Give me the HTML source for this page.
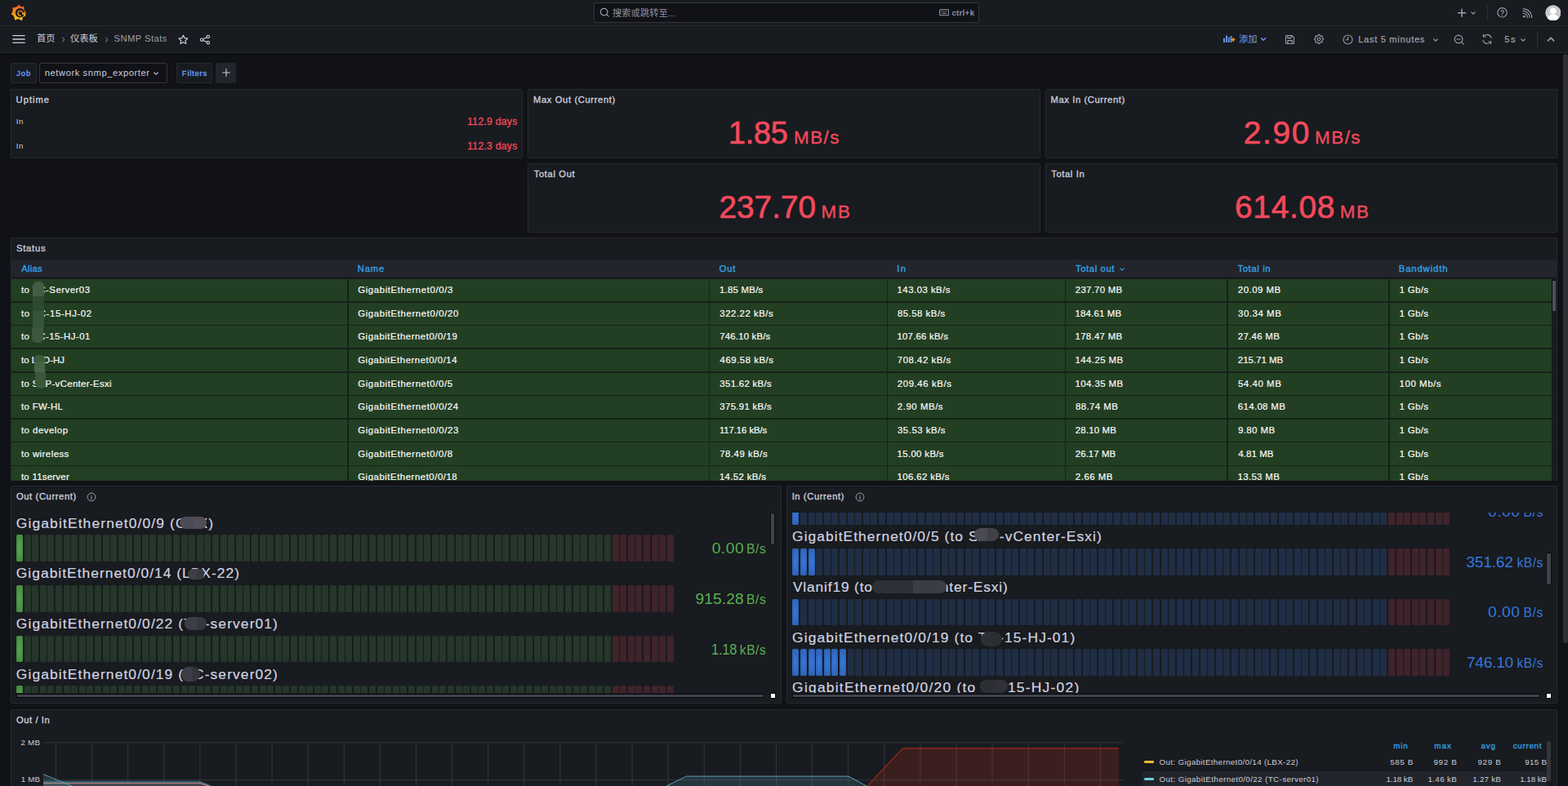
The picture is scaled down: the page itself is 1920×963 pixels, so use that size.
<!DOCTYPE html>
<html><head><meta charset="utf-8"><title>SNMP Stats - Grafana</title>
<style>
html,body{margin:0;padding:0;background:#111217;}
body{width:1920px;height:963px;position:relative;overflow:hidden;font-family:"Liberation Sans",sans-serif;color:#ccccdc;}
div,span.t,svg.a{position:absolute;box-sizing:border-box;}
span.t{white-space:nowrap;display:block;}
.p{background:#181b1f;border:1px solid #27292e;border-radius:2px;}
.cell{border-radius:1.6px;}
</style></head><body>
<div style="left:0.00px;top:0.00px;width:1920.00px;height:32.00px;background:#181b1f;border-bottom:1px solid #27292e;"></div>
<svg class="a" style="left:12.00px;top:4.00px;" width="22" height="23" viewBox="0 0 22 23"><defs><linearGradient id="lg" gradientUnits="userSpaceOnUse" x1="0" y1="21.5" x2="0" y2="1.5"><stop offset="0" stop-color="#fdd10b"/><stop offset="0.5" stop-color="#f7901e"/><stop offset="1" stop-color="#f0562a"/></linearGradient></defs>
<path d="M10.33 3.22 L11.40 1.91 L12.32 3.32 L13.48 4.68 L15.25 4.45 L16.88 4.02 L16.80 5.70 L17.26 8.02 L17.94 9.90 L19.37 10.66 L18.10 11.65 L17.96 12.84 L18.09 14.16 L18.85 15.63 L17.21 15.82 L15.67 16.79 L15.08 19.26 L14.56 20.92 L13.05 20.04 L10.59 18.59 L8.10 19.53 L6.56 20.30 L6.22 18.61 L5.23 15.83 L3.52 13.94 L2.00 13.29 L3.13 12.08 L3.89 9.75 L4.08 7.22 L3.62 5.61 L5.29 5.69 L7.94 4.84Z" fill="url(#lg)" stroke="url(#lg)" stroke-width="0.8" stroke-linejoin="round"/>
<circle cx="12.50" cy="11.80" r="5.7" fill="#181b1f"/>
<path d="M16.08 11.62 L19.86 11.57 L18.96 15.80 L15.91 13.52Z" fill="url(#lg)"/>
<path d="M13.16 15.24 A2.95 2.95 0 1 1 15.75 13.06" fill="none" stroke="url(#lg)" stroke-width="1.35" stroke-linecap="round"/></svg>
<div style="left:727.00px;top:3.00px;width:472.00px;height:24.50px;background:#111217;border:1px solid #33353b;border-radius:2px;"></div>
<svg class="a" style="left:734.00px;top:9.00px;" width="13" height="13" viewBox="0 0 13 13"><circle cx="5.6" cy="5.6" r="4.3" fill="none" stroke="#9d9fab" stroke-width="1.2"/><path d="M8.8 8.8 L11.2 11.2" stroke="#9d9fab" stroke-width="1.2" stroke-linecap="round"/></svg>
<svg class="a" role="img" aria-label="&#25628;&#32034;&#25110;&#36339;&#36716;&#33267;&#46;&#46;&#46;" style="left:750.00px;top:8.50px;overflow:visible" width="78.00" height="14.56"><text x="0" y="11.2" font-size="11.3" fill="#8e8f9c" font-family="'Liberation Sans','Noto Sans CJK SC',sans-serif">搜索或跳转至...</text></svg>
<svg class="a" style="left:1150.00px;top:11.40px;" width="12.4" height="8.6" viewBox="0 0 12.4 8.6"><rect x="0.7" y="0.7" width="11" height="7" rx="1.3" fill="none" stroke="#9d9fab" stroke-width="1.1"/><path d="M2.7 3.1 h7" stroke="#9d9fab" stroke-width="1" stroke-dasharray="1 1"/><path d="M3.4 5.3 h5.6" stroke="#9d9fab" stroke-width="1"/></svg>
<span class="t" style="left:1165.80px;top:10.87px;font-size:9.6px;line-height:9.6px;color:#9294a0;letter-spacing:0.756px;-webkit-text-stroke:0.4px #9294a0;">ctrl+k</span>
<svg class="a" style="left:1783.00px;top:8.50px;" width="14" height="14" viewBox="0 0 14 14"><path d="M7 2.3 V11.3 M2.5 6.8 H11.5" stroke="#a2a3ad" stroke-width="1.5" stroke-linecap="round"/></svg>
<svg class="a" style="left:1797.50px;top:9.50px;" width="12" height="12" viewBox="0 0 12 12"><path d="M3.7 4.85 L6 7.15 L8.3 4.85" fill="none" stroke="#9d9fab" stroke-width="1.2" stroke-linecap="round" stroke-linejoin="round"/></svg>
<div style="left:1821.00px;top:6.00px;width:1.00px;height:19.00px;background:#2e3036;"></div>
<svg class="a" style="left:1832.50px;top:9.00px;" width="13" height="13" viewBox="0 0 13 13"><circle cx="6.5" cy="6.3" r="5.7" fill="none" stroke="#9d9fab" stroke-width="1.1"/><path d="M5 5.2 a1.6 1.6 0 1 1 2.3 1.5 c-0.6 0.3 -0.8 0.6 -0.8 1.2" fill="none" stroke="#9d9fab" stroke-width="1.1" stroke-linecap="round"/><circle cx="6.5" cy="9.6" r="0.6" fill="#9d9fab"/></svg>
<svg class="a" style="left:1864.00px;top:9.50px;" width="13" height="13" viewBox="0 0 13 13"><circle cx="2.2" cy="10.3" r="1.3" fill="#9d9fab"/><path d="M1 6.2 a5.3 5.3 0 0 1 5.3 5.3 M1 3.4 a8.1 8.1 0 0 1 8.1 8.1 M1 0.8 a10.7 10.7 0 0 1 10.7 10.7" fill="none" stroke="#9d9fab" stroke-width="1.1" stroke-linecap="round"/></svg>
<svg class="a" style="left:1891.60px;top:5.60px;" width="19.6" height="19.6" viewBox="0 0 19.6 19.6"><clipPath id="av"><circle cx="9.8" cy="9.8" r="9.6"/></clipPath><circle cx="9.8" cy="9.8" r="9.6" fill="#c9c9cb"/><g clip-path="url(#av)" fill="#ffffff"><circle cx="9.8" cy="7.6" r="3.9"/><ellipse cx="9.8" cy="17.8" rx="7.2" ry="6.4"/></g></svg>
<div style="left:0.00px;top:32.00px;width:1920.00px;height:32.60px;background:#181b1f;border-bottom:1px solid #27292e;box-shadow:0 1px 2px rgba(0,0,0,0.5);"></div>
<svg class="a" style="left:14.50px;top:41.50px;" width="16" height="12" viewBox="0 0 16 12"><path d="M0.8 1.6 H15.2 M0.8 6 H15.2 M0.8 10.4 H15.2" stroke="#ccccdc" stroke-width="1.3" stroke-linecap="round"/></svg>
<svg class="a" role="img" aria-label="&#39318;&#39029;" style="left:45.00px;top:40.10px;overflow:visible" width="22.40" height="14.56"><text x="0" y="11.2" font-size="11.2" fill="#ccccdc" font-family="'Liberation Sans','Noto Sans CJK SC',sans-serif">首页</text></svg>
<svg class="a" style="left:74.00px;top:43.00px;" width="8" height="10" viewBox="0 0 8 10"><path d="M2.6 3.2 L5 5.6 L2.6 8" fill="none" stroke="#9d9fab" stroke-width="1" stroke-linecap="round" stroke-linejoin="round"/></svg>
<svg class="a" role="img" aria-label="&#20202;&#34920;&#26495;" style="left:86.00px;top:40.10px;overflow:visible" width="34.00" height="14.56"><text x="0" y="11.2" font-size="11.3" fill="#ccccdc" font-family="'Liberation Sans','Noto Sans CJK SC',sans-serif">仪表板</text></svg>
<svg class="a" style="left:127.00px;top:43.00px;" width="8" height="10" viewBox="0 0 8 10"><path d="M2.6 3.2 L5 5.6 L2.6 8" fill="none" stroke="#9d9fab" stroke-width="1" stroke-linecap="round" stroke-linejoin="round"/></svg>
<span class="t" style="left:139.50px;top:41.82px;font-size:11.2px;line-height:11.2px;color:#9d9fab;letter-spacing:0.457px;">SNMP Stats</span>
<svg class="a" style="left:217.00px;top:41.00px;" width="15" height="15" viewBox="0 0 15 15"><path d="M7.40 2.20 L9.05 5.63 L12.82 6.14 L10.06 8.77 L10.75 12.51 L7.40 10.70 L4.05 12.51 L4.74 8.77 L1.98 6.14 L5.75 5.63Z" fill="none" stroke="#ccccdc" stroke-width="1.2" stroke-linejoin="round"/></svg>
<svg class="a" style="left:244.00px;top:41.50px;" width="14" height="14" viewBox="0 0 14 14"><g fill="none" stroke="#ccccdc" stroke-width="1.1"><circle cx="3.1" cy="6.7" r="1.7"/><circle cx="10.8" cy="3.1" r="1.7"/><circle cx="10.8" cy="10.3" r="1.7"/><path d="M4.6 6 L9.3 3.8 M4.6 7.4 L9.3 9.6"/></g></svg>
<svg class="a" style="left:1497.00px;top:42.00px;" width="17" height="11" viewBox="0 0 17 11"><g fill="#6e9fff"><rect x="1" y="4.7" width="1.8" height="5.3"/><rect x="4" y="1.5" width="1.8" height="8.5"/><rect x="6.8" y="3.7" width="1.7" height="6.3"/><rect x="9.6" y="2" width="1.7" height="8"/></g><path d="M13 4.2 V9 M10.6 6.6 H15.4" stroke="#ff9830" stroke-width="1.5"/></svg>
<svg class="a" role="img" aria-label="&#28155;&#21152;" style="left:1517.00px;top:40.90px;overflow:visible" width="22.40" height="14.56"><text x="0" y="11.2" font-size="11.2" fill="#6e9fff" font-family="'Liberation Sans','Noto Sans CJK SC',sans-serif">添加</text></svg>
<svg class="a" style="left:1541.00px;top:42.00px;" width="12" height="12" viewBox="0 0 12 12"><path d="M3.4 4.7 L6 7.3 L8.6 4.7" fill="none" stroke="#6e9fff" stroke-width="1.3" stroke-linecap="round" stroke-linejoin="round"/></svg>
<svg class="a" style="left:1572.50px;top:41.50px;" width="13" height="13" viewBox="0 0 13 13"><g fill="none" stroke="#9d9fab" stroke-width="1.1" stroke-linejoin="round"><path d="M2.5 1.5 H8.8 L11.5 4.2 V10.5 Q11.5 11.5 10.5 11.5 H2.5 Q1.5 11.5 1.5 10.5 V2.5 Q1.5 1.5 2.5 1.5 Z"/><path d="M3.8 1.5 V4.6 H8 V1.5 M3.8 11.5 V7.6 H9.2 V11.5"/></g></svg>
<svg class="a" style="left:1608.00px;top:41.00px;" width="14" height="14" viewBox="0 0 14 14"><path d="M12.60 6.84 L12.60 7.16 L11.05 8.45 L10.89 8.84 L11.07 10.84 L10.84 11.07 L8.84 10.89 L8.45 11.05 L7.16 12.60 L6.84 12.60 L5.55 11.05 L5.16 10.89 L3.16 11.07 L2.93 10.84 L3.11 8.84 L2.95 8.45 L1.40 7.16 L1.40 6.84 L2.95 5.55 L3.11 5.16 L2.93 3.16 L3.16 2.93 L5.16 3.11 L5.55 2.95 L6.84 1.40 L7.16 1.40 L8.45 2.95 L8.84 3.11 L10.84 2.93 L11.07 3.16 L10.89 5.16 L11.05 5.55Z" fill="none" stroke="#9d9fab" stroke-width="1.1" stroke-linejoin="round"/><circle cx="7" cy="7" r="1.8" fill="none" stroke="#9d9fab" stroke-width="1.1"/></svg>
<svg class="a" style="left:1643.50px;top:41.70px;" width="13" height="13" viewBox="0 0 13 13"><circle cx="6.5" cy="6.5" r="5.5" fill="none" stroke="#9d9fab" stroke-width="1.1"/><path d="M6.5 3.3 V6.7 H4.2" fill="none" stroke="#9d9fab" stroke-width="1.1" stroke-linecap="round"/></svg>
<span class="t" style="left:1663.22px;top:42.69px;font-size:11.0px;line-height:11.0px;color:#9d9fab;letter-spacing:0.732px;-webkit-text-stroke:0.25px #9d9fab;">Last 5 minutes</span>
<svg class="a" style="left:1752.00px;top:42.50px;" width="12" height="12" viewBox="0 0 12 12"><path d="M3.7 4.85 L6 7.15 L8.3 4.85" fill="none" stroke="#9d9fab" stroke-width="1.2" stroke-linecap="round" stroke-linejoin="round"/></svg>
<svg class="a" style="left:1779.50px;top:41.50px;" width="14" height="14" viewBox="0 0 14 14"><circle cx="6" cy="6" r="4.9" fill="none" stroke="#9d9fab" stroke-width="1.1"/><path d="M3.8 6 H8.2 M9.6 9.6 L12.4 12.4" stroke="#9d9fab" stroke-width="1.1" stroke-linecap="round"/></svg>
<svg class="a" style="left:1814.00px;top:41.30px;" width="14" height="14" viewBox="0 0 14 14"><g fill="none" stroke="#9d9fab" stroke-width="1.1" stroke-linecap="round" stroke-linejoin="round"><path d="M12 5.4 A5.3 5.3 0 0 0 2.6 3.8 M2 8.6 A5.3 5.3 0 0 0 11.4 10.2"/><path d="M2.4 1.2 V4 H5.2 M11.6 12.8 V10 H8.8"/></g></svg>
<span class="t" style="left:1842.28px;top:42.69px;font-size:11.0px;line-height:11.0px;color:#9d9fab;letter-spacing:1.570px;-webkit-text-stroke:0.25px #9d9fab;">5s</span>
<svg class="a" style="left:1859.00px;top:42.50px;" width="12" height="12" viewBox="0 0 12 12"><path d="M3.7 4.85 L6 7.15 L8.3 4.85" fill="none" stroke="#9d9fab" stroke-width="1.2" stroke-linecap="round" stroke-linejoin="round"/></svg>
<div style="left:1881.50px;top:38.00px;width:1.00px;height:20.00px;background:#2e3036;"></div>
<svg class="a" style="left:1893.00px;top:42.00px;" width="12" height="12" viewBox="0 0 12 12"><path d="M2.4 7.9 L6 4.4 L9.6 7.9" fill="none" stroke="#9d9fab" stroke-width="1.6" stroke-linecap="round" stroke-linejoin="round"/></svg>
<div style="left:1914.00px;top:66.00px;width:5.60px;height:722.00px;background:#2f3035;border-radius:3px;"></div>
<div style="left:13.00px;top:77.00px;width:31.90px;height:24.60px;background:#181b1f;border:1px solid #27292e;border-radius:2px;"></div>
<span class="t" style="left:20.01px;top:85.07px;font-size:9.6px;line-height:9.6px;color:#6e9fff;letter-spacing:0.881px;-webkit-text-stroke:0.3px #6e9fff;">Job</span>
<div style="left:48.00px;top:77.00px;width:156.50px;height:24.60px;background:#111217;border:1px solid #33353b;border-radius:2px;"></div>
<span class="t" style="left:54.76px;top:83.52px;font-size:11.2px;line-height:11.2px;color:#ccccdc;letter-spacing:0.569px;">network snmp_exporter</span>
<svg class="a" style="left:184.50px;top:83.50px;" width="12" height="12" viewBox="0 0 12 12"><path d="M3.6 4.8 L6 7.2 L8.4 4.8" fill="none" stroke="#ccccdc" stroke-width="1.1" stroke-linecap="round" stroke-linejoin="round"/></svg>
<div style="left:216.00px;top:77.00px;width:44.00px;height:24.60px;background:#181b1f;border:1px solid #27292e;border-radius:2px;"></div>
<span class="t" style="left:222.86px;top:85.07px;font-size:9.6px;line-height:9.6px;color:#6e9fff;letter-spacing:0.700px;-webkit-text-stroke:0.3px #6e9fff;">Filters</span>
<div style="left:264.00px;top:77.00px;width:25.00px;height:24.60px;background:#22252b;border-radius:2px;"></div>
<svg class="a" style="left:270.50px;top:83.30px;" width="12" height="12" viewBox="0 0 12 12"><path d="M6 1.6 V10.4 M1.6 6 H10.4" stroke="#ccccdc" stroke-width="1.1" stroke-linecap="round"/></svg>
<div class="p" style="left:13.00px;top:108.80px;width:627.07px;height:84.80px;"></div>
<span class="t" style="left:19.61px;top:117.22px;font-size:11.2px;line-height:11.2px;color:#ccccdc;letter-spacing:1.007px;-webkit-text-stroke:0.35px #ccccdc;">Uptime</span>
<span class="t" style="left:19.72px;top:144.07px;font-size:9.6px;line-height:9.6px;color:#ccccdc;letter-spacing:0.591px;">In</span>
<span class="t" style="left:19.72px;top:174.07px;font-size:9.6px;line-height:9.6px;color:#ccccdc;letter-spacing:0.591px;">In</span>
<span class="t" style="left:572.22px;top:143.19px;font-size:12.3px;line-height:12.3px;color:#f2495c;letter-spacing:0.202px;-webkit-text-stroke:0.3px #f2495c;">112.9 days</span>
<span class="t" style="left:572.22px;top:173.19px;font-size:12.3px;line-height:12.3px;color:#f2495c;letter-spacing:0.202px;-webkit-text-stroke:0.3px #f2495c;">112.3 days</span>
<div class="p" style="left:646.47px;top:108.80px;width:627.07px;height:84.80px;"></div>
<span class="t" style="left:653.03px;top:117.22px;font-size:11.2px;line-height:11.2px;color:#ccccdc;letter-spacing:0.627px;-webkit-text-stroke:0.35px #ccccdc;">Max Out (Current)</span>
<span class="t" style="left:891.97px;top:144.16px;font-size:38.8px;line-height:38.8px;color:#f2495c;letter-spacing:-0.250px;-webkit-text-stroke:0.7px #f2495c;transform:scaleX(0.9730);transform-origin:0 0;">1.85</span>
<span class="t" style="left:972.06px;top:158.04px;font-size:22.4px;line-height:22.4px;color:#f2495c;letter-spacing:1.439px;-webkit-text-stroke:0.4px #f2495c;">MB/s</span>
<div class="p" style="left:1279.94px;top:108.80px;width:627.07px;height:84.80px;"></div>
<span class="t" style="left:1286.50px;top:117.22px;font-size:11.2px;line-height:11.2px;color:#ccccdc;letter-spacing:0.616px;-webkit-text-stroke:0.35px #ccccdc;">Max In (Current)</span>
<span class="t" style="left:1522.71px;top:144.16px;font-size:38.8px;line-height:38.8px;color:#f2495c;letter-spacing:1.670px;-webkit-text-stroke:0.7px #f2495c;">2.90</span>
<span class="t" style="left:1610.06px;top:158.04px;font-size:22.4px;line-height:22.4px;color:#f2495c;letter-spacing:1.505px;-webkit-text-stroke:0.4px #f2495c;">MB/s</span>
<div class="p" style="left:646.47px;top:200.00px;width:627.07px;height:84.80px;"></div>
<span class="t" style="left:653.70px;top:207.52px;font-size:11.2px;line-height:11.2px;color:#ccccdc;letter-spacing:0.644px;-webkit-text-stroke:0.35px #ccccdc;">Total Out</span>
<span class="t" style="left:880.41px;top:235.36px;font-size:38.8px;line-height:38.8px;color:#f2495c;letter-spacing:0.013px;-webkit-text-stroke:0.7px #f2495c;">237.70</span>
<span class="t" style="left:1005.46px;top:249.24px;font-size:22.4px;line-height:22.4px;color:#f2495c;letter-spacing:1.802px;-webkit-text-stroke:0.4px #f2495c;">MB</span>
<div class="p" style="left:1279.94px;top:200.00px;width:627.07px;height:84.80px;"></div>
<span class="t" style="left:1287.17px;top:207.52px;font-size:11.2px;line-height:11.2px;color:#ccccdc;letter-spacing:0.643px;-webkit-text-stroke:0.35px #ccccdc;">Total In</span>
<span class="t" style="left:1512.01px;top:235.36px;font-size:38.8px;line-height:38.8px;color:#f2495c;letter-spacing:0.752px;-webkit-text-stroke:0.7px #f2495c;">614.08</span>
<span class="t" style="left:1640.86px;top:249.24px;font-size:22.4px;line-height:22.4px;color:#f2495c;letter-spacing:1.602px;-webkit-text-stroke:0.4px #f2495c;">MB</span>
<div class="p" style="left:13.00px;top:291.20px;width:1894.00px;height:297.60px;border-bottom:none;border-radius:2px 2px 0 0;"></div>
<div style="left:14.00px;top:341.60px;width:1886.00px;height:247.20px;background:#16211a;"></div>
<span class="t" style="left:19.97px;top:298.72px;font-size:11.2px;line-height:11.2px;color:#ccccdc;letter-spacing:0.761px;-webkit-text-stroke:0.35px #ccccdc;">Status</span>
<div style="left:14.00px;top:317.80px;width:1892.00px;height:21.60px;background:#22252b;"></div>
<span class="t" style="left:26.15px;top:324.22px;font-size:11.2px;line-height:11.2px;color:#33a2e5;letter-spacing:0.324px;-webkit-text-stroke:0.35px #33a2e5;">Alias</span>
<span class="t" style="left:437.76px;top:324.22px;font-size:11.2px;line-height:11.2px;color:#33a2e5;letter-spacing:0.897px;-webkit-text-stroke:0.35px #33a2e5;">Name</span>
<span class="t" style="left:880.65px;top:324.22px;font-size:11.2px;line-height:11.2px;color:#33a2e5;letter-spacing:0.850px;-webkit-text-stroke:0.35px #33a2e5;">Out</span>
<span class="t" style="left:1098.14px;top:324.22px;font-size:11.2px;line-height:11.2px;color:#33a2e5;letter-spacing:1.556px;-webkit-text-stroke:0.35px #33a2e5;">In</span>
<span class="t" style="left:1316.93px;top:324.22px;font-size:11.2px;line-height:11.2px;color:#33a2e5;letter-spacing:0.642px;-webkit-text-stroke:0.35px #33a2e5;">Total out</span>
<span class="t" style="left:1515.43px;top:324.22px;font-size:11.2px;line-height:11.2px;color:#33a2e5;letter-spacing:0.662px;-webkit-text-stroke:0.35px #33a2e5;">Total in</span>
<span class="t" style="left:1712.76px;top:324.22px;font-size:11.2px;line-height:11.2px;color:#33a2e5;letter-spacing:0.935px;-webkit-text-stroke:0.35px #33a2e5;">Bandwidth</span>
<svg class="a" style="left:1368.00px;top:324.30px;" width="12" height="12" viewBox="0 0 12 12"><path d="M3.6 4.8 L6 7.2 L8.4 4.8" fill="none" stroke="#33a2e5" stroke-width="1.1" stroke-linecap="round" stroke-linejoin="round"/></svg>
<div style="left:14px;top:342.0px;width:1892px;height:246.80px;overflow:hidden;">
<div style="left:0.00px;top:0.00px;width:411.00px;height:27.13px;background:#233f23;"></div>
<span class="t" style="left:11.93px;top:7.65px;font-size:11.4px;line-height:11.4px;color:#fafafa;letter-spacing:0.496px;-webkit-text-stroke:0.2px #fafafa;">to TC-Server03</span>
<div style="left:412.50px;top:0.00px;width:441.00px;height:27.13px;background:#233f23;"></div>
<span class="t" style="left:424.23px;top:7.65px;font-size:11.4px;line-height:11.4px;color:#fafafa;letter-spacing:0.610px;-webkit-text-stroke:0.2px #fafafa;">GigabitEthernet0/0/3</span>
<div style="left:855.00px;top:0.00px;width:216.50px;height:27.13px;background:#233f23;"></div>
<span class="t" style="left:866.93px;top:7.65px;font-size:11.4px;line-height:11.4px;color:#fafafa;letter-spacing:0.257px;-webkit-text-stroke:0.2px #fafafa;">1.85 MB/s</span>
<div style="left:1073.00px;top:0.00px;width:216.50px;height:27.13px;background:#233f23;"></div>
<span class="t" style="left:1084.53px;top:7.65px;font-size:11.4px;line-height:11.4px;color:#fafafa;letter-spacing:0.487px;-webkit-text-stroke:0.2px #fafafa;">143.03 kB/s</span>
<div style="left:1291.00px;top:0.00px;width:197.00px;height:27.13px;background:#233f23;"></div>
<span class="t" style="left:1302.83px;top:7.65px;font-size:11.4px;line-height:11.4px;color:#fafafa;letter-spacing:0.267px;-webkit-text-stroke:0.2px #fafafa;">237.70 MB</span>
<div style="left:1489.50px;top:0.00px;width:196.50px;height:27.13px;background:#233f23;"></div>
<span class="t" style="left:1501.83px;top:7.65px;font-size:11.4px;line-height:11.4px;color:#fafafa;letter-spacing:0.496px;-webkit-text-stroke:0.2px #fafafa;">20.09 MB</span>
<div style="left:1687.50px;top:0.00px;width:198.50px;height:27.13px;background:#233f23;"></div>
<span class="t" style="left:1699.53px;top:7.65px;font-size:11.4px;line-height:11.4px;color:#fafafa;letter-spacing:0.358px;-webkit-text-stroke:0.2px #fafafa;">1 Gb/s</span>
<div style="left:0.00px;top:28.63px;width:411.00px;height:27.13px;background:#233f23;"></div>
<span class="t" style="left:11.93px;top:37.18px;font-size:11.4px;line-height:11.4px;color:#fafafa;letter-spacing:0.608px;-webkit-text-stroke:0.2px #fafafa;">to TC-15-HJ-02</span>
<div style="left:412.50px;top:28.63px;width:441.00px;height:27.13px;background:#233f23;"></div>
<span class="t" style="left:424.23px;top:37.18px;font-size:11.4px;line-height:11.4px;color:#fafafa;letter-spacing:0.610px;-webkit-text-stroke:0.2px #fafafa;">GigabitEthernet0/0/20</span>
<div style="left:855.00px;top:28.63px;width:216.50px;height:27.13px;background:#233f23;"></div>
<span class="t" style="left:867.37px;top:37.18px;font-size:11.4px;line-height:11.4px;color:#fafafa;letter-spacing:0.514px;-webkit-text-stroke:0.2px #fafafa;">322.22 kB/s</span>
<div style="left:1073.00px;top:28.63px;width:216.50px;height:27.13px;background:#233f23;"></div>
<span class="t" style="left:1084.91px;top:37.18px;font-size:11.4px;line-height:11.4px;color:#fafafa;letter-spacing:0.504px;-webkit-text-stroke:0.2px #fafafa;">85.58 kB/s</span>
<div style="left:1291.00px;top:28.63px;width:197.00px;height:27.13px;background:#233f23;"></div>
<span class="t" style="left:1302.53px;top:37.18px;font-size:11.4px;line-height:11.4px;color:#fafafa;letter-spacing:0.179px;-webkit-text-stroke:0.2px #fafafa;">184.61 MB</span>
<div style="left:1489.50px;top:28.63px;width:196.50px;height:27.13px;background:#233f23;"></div>
<span class="t" style="left:1501.97px;top:37.18px;font-size:11.4px;line-height:11.4px;color:#fafafa;letter-spacing:0.576px;-webkit-text-stroke:0.2px #fafafa;">30.34 MB</span>
<div style="left:1687.50px;top:28.63px;width:198.50px;height:27.13px;background:#233f23;"></div>
<span class="t" style="left:1699.53px;top:37.18px;font-size:11.4px;line-height:11.4px;color:#fafafa;letter-spacing:0.358px;-webkit-text-stroke:0.2px #fafafa;">1 Gb/s</span>
<div style="left:0.00px;top:57.26px;width:411.00px;height:27.13px;background:#233f23;"></div>
<span class="t" style="left:11.93px;top:64.91px;font-size:11.4px;line-height:11.4px;color:#fafafa;letter-spacing:0.475px;-webkit-text-stroke:0.2px #fafafa;">to TC-15-HJ-01</span>
<div style="left:412.50px;top:57.26px;width:441.00px;height:27.13px;background:#233f23;"></div>
<span class="t" style="left:424.23px;top:64.91px;font-size:11.4px;line-height:11.4px;color:#fafafa;letter-spacing:0.535px;-webkit-text-stroke:0.2px #fafafa;">GigabitEthernet0/0/19</span>
<div style="left:855.00px;top:57.26px;width:216.50px;height:27.13px;background:#233f23;"></div>
<span class="t" style="left:867.22px;top:64.91px;font-size:11.4px;line-height:11.4px;color:#fafafa;letter-spacing:0.189px;-webkit-text-stroke:0.2px #fafafa;">746.10 kB/s</span>
<div style="left:1073.00px;top:57.26px;width:216.50px;height:27.13px;background:#233f23;"></div>
<span class="t" style="left:1084.53px;top:64.91px;font-size:11.4px;line-height:11.4px;color:#fafafa;letter-spacing:0.217px;-webkit-text-stroke:0.2px #fafafa;">107.66 kB/s</span>
<div style="left:1291.00px;top:57.26px;width:197.00px;height:27.13px;background:#233f23;"></div>
<span class="t" style="left:1302.53px;top:64.91px;font-size:11.4px;line-height:11.4px;color:#fafafa;letter-spacing:0.304px;-webkit-text-stroke:0.2px #fafafa;">178.47 MB</span>
<div style="left:1489.50px;top:57.26px;width:196.50px;height:27.13px;background:#233f23;"></div>
<span class="t" style="left:1501.83px;top:64.91px;font-size:11.4px;line-height:11.4px;color:#fafafa;letter-spacing:0.310px;-webkit-text-stroke:0.2px #fafafa;">27.46 MB</span>
<div style="left:1687.50px;top:57.26px;width:198.50px;height:27.13px;background:#233f23;"></div>
<span class="t" style="left:1699.53px;top:64.91px;font-size:11.4px;line-height:11.4px;color:#fafafa;letter-spacing:0.358px;-webkit-text-stroke:0.2px #fafafa;">1 Gb/s</span>
<div style="left:0.00px;top:85.89px;width:411.00px;height:27.13px;background:#233f23;"></div>
<span class="t" style="left:11.93px;top:93.54px;font-size:11.4px;line-height:11.4px;color:#fafafa;letter-spacing:0.067px;-webkit-text-stroke:0.2px #fafafa;">to LBD-HJ</span>
<div style="left:412.50px;top:85.89px;width:441.00px;height:27.13px;background:#233f23;"></div>
<span class="t" style="left:424.23px;top:93.54px;font-size:11.4px;line-height:11.4px;color:#fafafa;letter-spacing:0.525px;-webkit-text-stroke:0.2px #fafafa;">GigabitEthernet0/0/14</span>
<div style="left:855.00px;top:85.89px;width:216.50px;height:27.13px;background:#233f23;"></div>
<span class="t" style="left:867.55px;top:93.54px;font-size:11.4px;line-height:11.4px;color:#fafafa;letter-spacing:0.526px;-webkit-text-stroke:0.2px #fafafa;">469.58 kB/s</span>
<div style="left:1073.00px;top:85.89px;width:216.50px;height:27.13px;background:#233f23;"></div>
<span class="t" style="left:1084.82px;top:93.54px;font-size:11.4px;line-height:11.4px;color:#fafafa;letter-spacing:0.529px;-webkit-text-stroke:0.2px #fafafa;">708.42 kB/s</span>
<div style="left:1291.00px;top:85.89px;width:197.00px;height:27.13px;background:#233f23;"></div>
<span class="t" style="left:1302.53px;top:93.54px;font-size:11.4px;line-height:11.4px;color:#fafafa;letter-spacing:0.429px;-webkit-text-stroke:0.2px #fafafa;">144.25 MB</span>
<div style="left:1489.50px;top:85.89px;width:196.50px;height:27.13px;background:#233f23;"></div>
<span class="t" style="left:1501.83px;top:93.54px;font-size:11.4px;line-height:11.4px;color:#fafafa;letter-spacing:0.017px;-webkit-text-stroke:0.2px #fafafa;">215.71 MB</span>
<div style="left:1687.50px;top:85.89px;width:198.50px;height:27.13px;background:#233f23;"></div>
<span class="t" style="left:1699.53px;top:93.54px;font-size:11.4px;line-height:11.4px;color:#fafafa;letter-spacing:0.358px;-webkit-text-stroke:0.2px #fafafa;">1 Gb/s</span>
<div style="left:0.00px;top:114.52px;width:411.00px;height:27.13px;background:#233f23;"></div>
<span class="t" style="left:11.93px;top:123.07px;font-size:11.4px;line-height:11.4px;color:#fafafa;letter-spacing:0.345px;-webkit-text-stroke:0.2px #fafafa;">to SAP-vCenter-Esxi</span>
<div style="left:412.50px;top:114.52px;width:441.00px;height:27.13px;background:#233f23;"></div>
<span class="t" style="left:424.23px;top:123.07px;font-size:11.4px;line-height:11.4px;color:#fafafa;letter-spacing:0.593px;-webkit-text-stroke:0.2px #fafafa;">GigabitEthernet0/0/5</span>
<div style="left:855.00px;top:114.52px;width:216.50px;height:27.13px;background:#233f23;"></div>
<span class="t" style="left:867.37px;top:123.07px;font-size:11.4px;line-height:11.4px;color:#fafafa;letter-spacing:0.314px;-webkit-text-stroke:0.2px #fafafa;">351.62 kB/s</span>
<div style="left:1073.00px;top:114.52px;width:216.50px;height:27.13px;background:#233f23;"></div>
<span class="t" style="left:1084.83px;top:123.07px;font-size:11.4px;line-height:11.4px;color:#fafafa;letter-spacing:0.588px;-webkit-text-stroke:0.2px #fafafa;">209.46 kB/s</span>
<div style="left:1291.00px;top:114.52px;width:197.00px;height:27.13px;background:#233f23;"></div>
<span class="t" style="left:1302.53px;top:123.07px;font-size:11.4px;line-height:11.4px;color:#fafafa;letter-spacing:0.429px;-webkit-text-stroke:0.2px #fafafa;">104.35 MB</span>
<div style="left:1489.50px;top:114.52px;width:196.50px;height:27.13px;background:#233f23;"></div>
<span class="t" style="left:1501.94px;top:123.07px;font-size:11.4px;line-height:11.4px;color:#fafafa;letter-spacing:0.580px;-webkit-text-stroke:0.2px #fafafa;">54.40 MB</span>
<div style="left:1687.50px;top:114.52px;width:198.50px;height:27.13px;background:#233f23;"></div>
<span class="t" style="left:1699.53px;top:123.07px;font-size:11.4px;line-height:11.4px;color:#fafafa;letter-spacing:0.598px;-webkit-text-stroke:0.2px #fafafa;">100 Mb/s</span>
<div style="left:0.00px;top:143.15px;width:411.00px;height:27.13px;background:#233f23;"></div>
<span class="t" style="left:11.93px;top:150.80px;font-size:11.4px;line-height:11.4px;color:#fafafa;letter-spacing:0.355px;-webkit-text-stroke:0.2px #fafafa;">to FW-HL</span>
<div style="left:412.50px;top:143.15px;width:441.00px;height:27.13px;background:#233f23;"></div>
<span class="t" style="left:424.23px;top:150.80px;font-size:11.4px;line-height:11.4px;color:#fafafa;letter-spacing:0.605px;-webkit-text-stroke:0.2px #fafafa;">GigabitEthernet0/0/24</span>
<div style="left:855.00px;top:143.15px;width:216.50px;height:27.13px;background:#233f23;"></div>
<span class="t" style="left:867.37px;top:150.80px;font-size:11.4px;line-height:11.4px;color:#fafafa;letter-spacing:0.314px;-webkit-text-stroke:0.2px #fafafa;">375.91 kB/s</span>
<div style="left:1073.00px;top:143.15px;width:216.50px;height:27.13px;background:#233f23;"></div>
<span class="t" style="left:1084.83px;top:150.80px;font-size:11.4px;line-height:11.4px;color:#fafafa;letter-spacing:0.557px;-webkit-text-stroke:0.2px #fafafa;">2.90 MB/s</span>
<div style="left:1291.00px;top:143.15px;width:197.00px;height:27.13px;background:#233f23;"></div>
<span class="t" style="left:1302.91px;top:150.80px;font-size:11.4px;line-height:11.4px;color:#fafafa;letter-spacing:0.442px;-webkit-text-stroke:0.2px #fafafa;">88.74 MB</span>
<div style="left:1489.50px;top:143.15px;width:196.50px;height:27.13px;background:#233f23;"></div>
<span class="t" style="left:1501.83px;top:150.80px;font-size:11.4px;line-height:11.4px;color:#fafafa;letter-spacing:0.354px;-webkit-text-stroke:0.2px #fafafa;">614.08 MB</span>
<div style="left:1687.50px;top:143.15px;width:198.50px;height:27.13px;background:#233f23;"></div>
<span class="t" style="left:1699.53px;top:150.80px;font-size:11.4px;line-height:11.4px;color:#fafafa;letter-spacing:0.358px;-webkit-text-stroke:0.2px #fafafa;">1 Gb/s</span>
<div style="left:0.00px;top:171.78px;width:411.00px;height:27.13px;background:#233f23;"></div>
<span class="t" style="left:11.93px;top:180.33px;font-size:11.4px;line-height:11.4px;color:#fafafa;letter-spacing:0.503px;-webkit-text-stroke:0.2px #fafafa;">to develop</span>
<div style="left:412.50px;top:171.78px;width:441.00px;height:27.13px;background:#233f23;"></div>
<span class="t" style="left:424.23px;top:180.33px;font-size:11.4px;line-height:11.4px;color:#fafafa;letter-spacing:0.612px;-webkit-text-stroke:0.2px #fafafa;">GigabitEthernet0/0/23</span>
<div style="left:855.00px;top:171.78px;width:216.50px;height:27.13px;background:#233f23;"></div>
<span class="t" style="left:866.93px;top:180.33px;font-size:11.4px;line-height:11.4px;color:#fafafa;letter-spacing:-0.098px;-webkit-text-stroke:0.2px #fafafa;">117.16 kB/s</span>
<div style="left:1073.00px;top:171.78px;width:216.50px;height:27.13px;background:#233f23;"></div>
<span class="t" style="left:1084.97px;top:180.33px;font-size:11.4px;line-height:11.4px;color:#fafafa;letter-spacing:0.531px;-webkit-text-stroke:0.2px #fafafa;">35.53 kB/s</span>
<div style="left:1291.00px;top:171.78px;width:197.00px;height:27.13px;background:#233f23;"></div>
<span class="t" style="left:1302.83px;top:180.33px;font-size:11.4px;line-height:11.4px;color:#fafafa;letter-spacing:0.167px;-webkit-text-stroke:0.2px #fafafa;">28.10 MB</span>
<div style="left:1489.50px;top:171.78px;width:196.50px;height:27.13px;background:#233f23;"></div>
<span class="t" style="left:1501.88px;top:180.33px;font-size:11.4px;line-height:11.4px;color:#fafafa;letter-spacing:0.461px;-webkit-text-stroke:0.2px #fafafa;">9.80 MB</span>
<div style="left:1687.50px;top:171.78px;width:198.50px;height:27.13px;background:#233f23;"></div>
<span class="t" style="left:1699.53px;top:180.33px;font-size:11.4px;line-height:11.4px;color:#fafafa;letter-spacing:0.358px;-webkit-text-stroke:0.2px #fafafa;">1 Gb/s</span>
<div style="left:0.00px;top:200.41px;width:411.00px;height:27.13px;background:#233f23;"></div>
<span class="t" style="left:11.93px;top:208.96px;font-size:11.4px;line-height:11.4px;color:#fafafa;letter-spacing:0.453px;-webkit-text-stroke:0.2px #fafafa;">to wireless</span>
<div style="left:412.50px;top:200.41px;width:441.00px;height:27.13px;background:#233f23;"></div>
<span class="t" style="left:424.23px;top:208.96px;font-size:11.4px;line-height:11.4px;color:#fafafa;letter-spacing:0.594px;-webkit-text-stroke:0.2px #fafafa;">GigabitEthernet0/0/8</span>
<div style="left:855.00px;top:200.41px;width:216.50px;height:27.13px;background:#233f23;"></div>
<span class="t" style="left:867.22px;top:208.96px;font-size:11.4px;line-height:11.4px;color:#fafafa;letter-spacing:0.514px;-webkit-text-stroke:0.2px #fafafa;">78.49 kB/s</span>
<div style="left:1073.00px;top:200.41px;width:216.50px;height:27.13px;background:#233f23;"></div>
<span class="t" style="left:1084.53px;top:208.96px;font-size:11.4px;line-height:11.4px;color:#fafafa;letter-spacing:0.357px;-webkit-text-stroke:0.2px #fafafa;">15.00 kB/s</span>
<div style="left:1291.00px;top:200.41px;width:197.00px;height:27.13px;background:#233f23;"></div>
<span class="t" style="left:1302.83px;top:208.96px;font-size:11.4px;line-height:11.4px;color:#fafafa;letter-spacing:0.067px;-webkit-text-stroke:0.2px #fafafa;">26.17 MB</span>
<div style="left:1489.50px;top:200.41px;width:196.50px;height:27.13px;background:#233f23;"></div>
<span class="t" style="left:1502.15px;top:208.96px;font-size:11.4px;line-height:11.4px;color:#fafafa;letter-spacing:0.148px;-webkit-text-stroke:0.2px #fafafa;">4.81 MB</span>
<div style="left:1687.50px;top:200.41px;width:198.50px;height:27.13px;background:#233f23;"></div>
<span class="t" style="left:1699.53px;top:208.96px;font-size:11.4px;line-height:11.4px;color:#fafafa;letter-spacing:0.358px;-webkit-text-stroke:0.2px #fafafa;">1 Gb/s</span>
<div style="left:0.00px;top:229.04px;width:411.00px;height:27.13px;background:#233f23;"></div>
<span class="t" style="left:11.93px;top:236.69px;font-size:11.4px;line-height:11.4px;color:#fafafa;letter-spacing:0.267px;-webkit-text-stroke:0.2px #fafafa;">to 11server</span>
<div style="left:412.50px;top:229.04px;width:441.00px;height:27.13px;background:#233f23;"></div>
<span class="t" style="left:424.23px;top:236.69px;font-size:11.4px;line-height:11.4px;color:#fafafa;letter-spacing:0.532px;-webkit-text-stroke:0.2px #fafafa;">GigabitEthernet0/0/18</span>
<div style="left:855.00px;top:229.04px;width:216.50px;height:27.13px;background:#233f23;"></div>
<span class="t" style="left:866.93px;top:236.69px;font-size:11.4px;line-height:11.4px;color:#fafafa;letter-spacing:0.357px;-webkit-text-stroke:0.2px #fafafa;">14.52 kB/s</span>
<div style="left:1073.00px;top:229.04px;width:216.50px;height:27.13px;background:#233f23;"></div>
<span class="t" style="left:1084.53px;top:236.69px;font-size:11.4px;line-height:11.4px;color:#fafafa;letter-spacing:0.387px;-webkit-text-stroke:0.2px #fafafa;">106.62 kB/s</span>
<div style="left:1291.00px;top:229.04px;width:197.00px;height:27.13px;background:#233f23;"></div>
<span class="t" style="left:1302.83px;top:236.69px;font-size:11.4px;line-height:11.4px;color:#fafafa;letter-spacing:0.535px;-webkit-text-stroke:0.2px #fafafa;">2.66 MB</span>
<div style="left:1489.50px;top:229.04px;width:196.50px;height:27.13px;background:#233f23;"></div>
<span class="t" style="left:1501.53px;top:236.69px;font-size:11.4px;line-height:11.4px;color:#fafafa;letter-spacing:0.352px;-webkit-text-stroke:0.2px #fafafa;">13.53 MB</span>
<div style="left:1687.50px;top:229.04px;width:198.50px;height:27.13px;background:#233f23;"></div>
<span class="t" style="left:1699.53px;top:236.69px;font-size:11.4px;line-height:11.4px;color:#fafafa;letter-spacing:0.358px;-webkit-text-stroke:0.2px #fafafa;">1 Gb/s</span>
</div>
<div style="left:40.20px;top:345.00px;width:13.80px;height:18.00px;background:#425d43;border-radius:6px 6px 0 0;"></div>
<div style="left:40.20px;top:363.00px;width:13.80px;height:18.00px;background:#2d4a2e;"></div>
<div style="left:40.20px;top:381.00px;width:13.80px;height:20.00px;background:#375438;"></div>
<div style="left:39.00px;top:401.00px;width:13.60px;height:18.50px;background:#3b573c;border-radius:0 0 5px 6px;"></div>
<div style="left:42.30px;top:434.50px;width:13.10px;height:8.00px;background:#3d593e;border-radius:5px 5px 0 0;"></div>
<div style="left:42.30px;top:442.50px;width:13.10px;height:13.00px;background:#466247;"></div>
<div style="left:42.80px;top:455.50px;width:13.10px;height:20.50px;background:#3a563b;border-radius:0 0 6px 6px;"></div>
<div style="left:1900.30px;top:343.00px;width:5.20px;height:37.80px;background:#4e505c;border-left:0.8px solid #0a0b0d;border-top:0.8px solid #0a0b0d;border-radius:1px;"></div>
<div class="p" style="left:13.00px;top:595.20px;width:943.80px;height:267.20px;"></div>
<span class="t" style="left:19.95px;top:602.72px;font-size:11.2px;line-height:11.2px;color:#ccccdc;letter-spacing:0.617px;-webkit-text-stroke:0.35px #ccccdc;">Out (Current)</span>
<svg class="a" style="left:106.30px;top:602.60px;" width="12" height="12" viewBox="0 0 12 12"><circle cx="6" cy="6" r="4.9" fill="none" stroke="#9d9fab" stroke-width="1"/><path d="M6 5.6 V8.4" stroke="#9d9fab" stroke-width="1.1" stroke-linecap="round"/><circle cx="6" cy="3.8" r="0.6" fill="#9d9fab"/></svg>
<div style="left:14px;top:628.0px;width:941.8px;height:221.30px;overflow:hidden;">
<span class="t" style="left:5.83px;top:4.87px;font-size:17.4px;line-height:17.4px;color:#d2d2e0;letter-spacing:1.139px;-webkit-text-stroke:0.2px #d2d2e0;">GigabitEthernet0/0/9 (CNX)</span>
<div class="cell" style="left:5.90px;top:27.40px;width:8px;height:32.8px;background:radial-gradient(ellipse at center,#55a74e 0%,#4b9545 55%,#427f3e 100%);"></div><div class="cell" style="left:15.50px;top:27.40px;width:8px;height:32.8px;background:#25362a;"></div><div class="cell" style="left:25.10px;top:27.40px;width:8px;height:32.8px;background:#25362a;"></div><div class="cell" style="left:34.70px;top:27.40px;width:8px;height:32.8px;background:#25362a;"></div><div class="cell" style="left:44.30px;top:27.40px;width:8px;height:32.8px;background:#25362a;"></div><div class="cell" style="left:53.90px;top:27.40px;width:8px;height:32.8px;background:#25362a;"></div><div class="cell" style="left:63.50px;top:27.40px;width:8px;height:32.8px;background:#25362a;"></div><div class="cell" style="left:73.10px;top:27.40px;width:8px;height:32.8px;background:#25362a;"></div><div class="cell" style="left:82.70px;top:27.40px;width:8px;height:32.8px;background:#25362a;"></div><div class="cell" style="left:92.30px;top:27.40px;width:8px;height:32.8px;background:#25362a;"></div><div class="cell" style="left:101.90px;top:27.40px;width:8px;height:32.8px;background:#25362a;"></div><div class="cell" style="left:111.50px;top:27.40px;width:8px;height:32.8px;background:#25362a;"></div><div class="cell" style="left:121.10px;top:27.40px;width:8px;height:32.8px;background:#25362a;"></div><div class="cell" style="left:130.70px;top:27.40px;width:8px;height:32.8px;background:#25362a;"></div><div class="cell" style="left:140.30px;top:27.40px;width:8px;height:32.8px;background:#25362a;"></div><div class="cell" style="left:149.90px;top:27.40px;width:8px;height:32.8px;background:#25362a;"></div><div class="cell" style="left:159.50px;top:27.40px;width:8px;height:32.8px;background:#25362a;"></div><div class="cell" style="left:169.10px;top:27.40px;width:8px;height:32.8px;background:#25362a;"></div><div class="cell" style="left:178.70px;top:27.40px;width:8px;height:32.8px;background:#25362a;"></div><div class="cell" style="left:188.30px;top:27.40px;width:8px;height:32.8px;background:#25362a;"></div><div class="cell" style="left:197.90px;top:27.40px;width:8px;height:32.8px;background:#25362a;"></div><div class="cell" style="left:207.50px;top:27.40px;width:8px;height:32.8px;background:#25362a;"></div><div class="cell" style="left:217.10px;top:27.40px;width:8px;height:32.8px;background:#25362a;"></div><div class="cell" style="left:226.70px;top:27.40px;width:8px;height:32.8px;background:#25362a;"></div><div class="cell" style="left:236.30px;top:27.40px;width:8px;height:32.8px;background:#25362a;"></div><div class="cell" style="left:245.90px;top:27.40px;width:8px;height:32.8px;background:#25362a;"></div><div class="cell" style="left:255.50px;top:27.40px;width:8px;height:32.8px;background:#25362a;"></div><div class="cell" style="left:265.10px;top:27.40px;width:8px;height:32.8px;background:#25362a;"></div><div class="cell" style="left:274.70px;top:27.40px;width:8px;height:32.8px;background:#25362a;"></div><div class="cell" style="left:284.30px;top:27.40px;width:8px;height:32.8px;background:#25362a;"></div><div class="cell" style="left:293.90px;top:27.40px;width:8px;height:32.8px;background:#25362a;"></div><div class="cell" style="left:303.50px;top:27.40px;width:8px;height:32.8px;background:#25362a;"></div><div class="cell" style="left:313.10px;top:27.40px;width:8px;height:32.8px;background:#25362a;"></div><div class="cell" style="left:322.70px;top:27.40px;width:8px;height:32.8px;background:#25362a;"></div><div class="cell" style="left:332.30px;top:27.40px;width:8px;height:32.8px;background:#25362a;"></div><div class="cell" style="left:341.90px;top:27.40px;width:8px;height:32.8px;background:#25362a;"></div><div class="cell" style="left:351.50px;top:27.40px;width:8px;height:32.8px;background:#25362a;"></div><div class="cell" style="left:361.10px;top:27.40px;width:8px;height:32.8px;background:#25362a;"></div><div class="cell" style="left:370.70px;top:27.40px;width:8px;height:32.8px;background:#25362a;"></div><div class="cell" style="left:380.30px;top:27.40px;width:8px;height:32.8px;background:#25362a;"></div><div class="cell" style="left:389.90px;top:27.40px;width:8px;height:32.8px;background:#25362a;"></div><div class="cell" style="left:399.50px;top:27.40px;width:8px;height:32.8px;background:#25362a;"></div><div class="cell" style="left:409.10px;top:27.40px;width:8px;height:32.8px;background:#25362a;"></div><div class="cell" style="left:418.70px;top:27.40px;width:8px;height:32.8px;background:#25362a;"></div><div class="cell" style="left:428.30px;top:27.40px;width:8px;height:32.8px;background:#25362a;"></div><div class="cell" style="left:437.90px;top:27.40px;width:8px;height:32.8px;background:#25362a;"></div><div class="cell" style="left:447.50px;top:27.40px;width:8px;height:32.8px;background:#25362a;"></div><div class="cell" style="left:457.10px;top:27.40px;width:8px;height:32.8px;background:#25362a;"></div><div class="cell" style="left:466.70px;top:27.40px;width:8px;height:32.8px;background:#25362a;"></div><div class="cell" style="left:476.30px;top:27.40px;width:8px;height:32.8px;background:#25362a;"></div><div class="cell" style="left:485.90px;top:27.40px;width:8px;height:32.8px;background:#25362a;"></div><div class="cell" style="left:495.50px;top:27.40px;width:8px;height:32.8px;background:#25362a;"></div><div class="cell" style="left:505.10px;top:27.40px;width:8px;height:32.8px;background:#25362a;"></div><div class="cell" style="left:514.70px;top:27.40px;width:8px;height:32.8px;background:#25362a;"></div><div class="cell" style="left:524.30px;top:27.40px;width:8px;height:32.8px;background:#25362a;"></div><div class="cell" style="left:533.90px;top:27.40px;width:8px;height:32.8px;background:#25362a;"></div><div class="cell" style="left:543.50px;top:27.40px;width:8px;height:32.8px;background:#25362a;"></div><div class="cell" style="left:553.10px;top:27.40px;width:8px;height:32.8px;background:#25362a;"></div><div class="cell" style="left:562.70px;top:27.40px;width:8px;height:32.8px;background:#25362a;"></div><div class="cell" style="left:572.30px;top:27.40px;width:8px;height:32.8px;background:#25362a;"></div><div class="cell" style="left:581.90px;top:27.40px;width:8px;height:32.8px;background:#25362a;"></div><div class="cell" style="left:591.50px;top:27.40px;width:8px;height:32.8px;background:#25362a;"></div><div class="cell" style="left:601.10px;top:27.40px;width:8px;height:32.8px;background:#25362a;"></div><div class="cell" style="left:610.70px;top:27.40px;width:8px;height:32.8px;background:#25362a;"></div><div class="cell" style="left:620.30px;top:27.40px;width:8px;height:32.8px;background:#25362a;"></div><div class="cell" style="left:629.90px;top:27.40px;width:8px;height:32.8px;background:#25362a;"></div><div class="cell" style="left:639.50px;top:27.40px;width:8px;height:32.8px;background:#25362a;"></div><div class="cell" style="left:649.10px;top:27.40px;width:8px;height:32.8px;background:#25362a;"></div><div class="cell" style="left:658.70px;top:27.40px;width:8px;height:32.8px;background:#25362a;"></div><div class="cell" style="left:668.30px;top:27.40px;width:8px;height:32.8px;background:#25362a;"></div><div class="cell" style="left:677.90px;top:27.40px;width:8px;height:32.8px;background:#25362a;"></div><div class="cell" style="left:687.50px;top:27.40px;width:8px;height:32.8px;background:#25362a;"></div><div class="cell" style="left:697.10px;top:27.40px;width:8px;height:32.8px;background:#25362a;"></div><div class="cell" style="left:706.70px;top:27.40px;width:8px;height:32.8px;background:#25362a;"></div><div class="cell" style="left:716.30px;top:27.40px;width:8px;height:32.8px;background:#25362a;"></div><div class="cell" style="left:725.90px;top:27.40px;width:8px;height:32.8px;background:#25362a;"></div><div class="cell" style="left:735.50px;top:27.40px;width:8px;height:32.8px;background:#40232b;"></div><div class="cell" style="left:745.10px;top:27.40px;width:8px;height:32.8px;background:#40232b;"></div><div class="cell" style="left:754.70px;top:27.40px;width:8px;height:32.8px;background:#40232b;"></div><div class="cell" style="left:764.30px;top:27.40px;width:8px;height:32.8px;background:#40232b;"></div><div class="cell" style="left:773.90px;top:27.40px;width:8px;height:32.8px;background:#40232b;"></div><div class="cell" style="left:783.50px;top:27.40px;width:8px;height:32.8px;background:#40232b;"></div><div class="cell" style="left:793.10px;top:27.40px;width:8px;height:32.8px;background:#40232b;"></div><div class="cell" style="left:802.70px;top:27.40px;width:8px;height:32.8px;background:#40232b;"></div>
<span class="t" style="left:900.02px;top:37.39px;font-size:15.6px;line-height:15.6px;color:#5aad50;letter-spacing:0.649px;">B/s</span>
<span class="t" style="left:857.65px;top:34.35px;font-size:19.2px;line-height:19.2px;color:#5aad50;letter-spacing:0.538px;">0.00</span>
<span class="t" style="left:5.83px;top:66.47px;font-size:17.4px;line-height:17.4px;color:#d2d2e0;letter-spacing:1.018px;-webkit-text-stroke:0.2px #d2d2e0;">GigabitEthernet0/0/14 (LBX-22)</span>
<div class="cell" style="left:5.90px;top:89.00px;width:8px;height:32.8px;background:radial-gradient(ellipse at center,#55a74e 0%,#4b9545 55%,#427f3e 100%);"></div><div class="cell" style="left:15.50px;top:89.00px;width:8px;height:32.8px;background:#25362a;"></div><div class="cell" style="left:25.10px;top:89.00px;width:8px;height:32.8px;background:#25362a;"></div><div class="cell" style="left:34.70px;top:89.00px;width:8px;height:32.8px;background:#25362a;"></div><div class="cell" style="left:44.30px;top:89.00px;width:8px;height:32.8px;background:#25362a;"></div><div class="cell" style="left:53.90px;top:89.00px;width:8px;height:32.8px;background:#25362a;"></div><div class="cell" style="left:63.50px;top:89.00px;width:8px;height:32.8px;background:#25362a;"></div><div class="cell" style="left:73.10px;top:89.00px;width:8px;height:32.8px;background:#25362a;"></div><div class="cell" style="left:82.70px;top:89.00px;width:8px;height:32.8px;background:#25362a;"></div><div class="cell" style="left:92.30px;top:89.00px;width:8px;height:32.8px;background:#25362a;"></div><div class="cell" style="left:101.90px;top:89.00px;width:8px;height:32.8px;background:#25362a;"></div><div class="cell" style="left:111.50px;top:89.00px;width:8px;height:32.8px;background:#25362a;"></div><div class="cell" style="left:121.10px;top:89.00px;width:8px;height:32.8px;background:#25362a;"></div><div class="cell" style="left:130.70px;top:89.00px;width:8px;height:32.8px;background:#25362a;"></div><div class="cell" style="left:140.30px;top:89.00px;width:8px;height:32.8px;background:#25362a;"></div><div class="cell" style="left:149.90px;top:89.00px;width:8px;height:32.8px;background:#25362a;"></div><div class="cell" style="left:159.50px;top:89.00px;width:8px;height:32.8px;background:#25362a;"></div><div class="cell" style="left:169.10px;top:89.00px;width:8px;height:32.8px;background:#25362a;"></div><div class="cell" style="left:178.70px;top:89.00px;width:8px;height:32.8px;background:#25362a;"></div><div class="cell" style="left:188.30px;top:89.00px;width:8px;height:32.8px;background:#25362a;"></div><div class="cell" style="left:197.90px;top:89.00px;width:8px;height:32.8px;background:#25362a;"></div><div class="cell" style="left:207.50px;top:89.00px;width:8px;height:32.8px;background:#25362a;"></div><div class="cell" style="left:217.10px;top:89.00px;width:8px;height:32.8px;background:#25362a;"></div><div class="cell" style="left:226.70px;top:89.00px;width:8px;height:32.8px;background:#25362a;"></div><div class="cell" style="left:236.30px;top:89.00px;width:8px;height:32.8px;background:#25362a;"></div><div class="cell" style="left:245.90px;top:89.00px;width:8px;height:32.8px;background:#25362a;"></div><div class="cell" style="left:255.50px;top:89.00px;width:8px;height:32.8px;background:#25362a;"></div><div class="cell" style="left:265.10px;top:89.00px;width:8px;height:32.8px;background:#25362a;"></div><div class="cell" style="left:274.70px;top:89.00px;width:8px;height:32.8px;background:#25362a;"></div><div class="cell" style="left:284.30px;top:89.00px;width:8px;height:32.8px;background:#25362a;"></div><div class="cell" style="left:293.90px;top:89.00px;width:8px;height:32.8px;background:#25362a;"></div><div class="cell" style="left:303.50px;top:89.00px;width:8px;height:32.8px;background:#25362a;"></div><div class="cell" style="left:313.10px;top:89.00px;width:8px;height:32.8px;background:#25362a;"></div><div class="cell" style="left:322.70px;top:89.00px;width:8px;height:32.8px;background:#25362a;"></div><div class="cell" style="left:332.30px;top:89.00px;width:8px;height:32.8px;background:#25362a;"></div><div class="cell" style="left:341.90px;top:89.00px;width:8px;height:32.8px;background:#25362a;"></div><div class="cell" style="left:351.50px;top:89.00px;width:8px;height:32.8px;background:#25362a;"></div><div class="cell" style="left:361.10px;top:89.00px;width:8px;height:32.8px;background:#25362a;"></div><div class="cell" style="left:370.70px;top:89.00px;width:8px;height:32.8px;background:#25362a;"></div><div class="cell" style="left:380.30px;top:89.00px;width:8px;height:32.8px;background:#25362a;"></div><div class="cell" style="left:389.90px;top:89.00px;width:8px;height:32.8px;background:#25362a;"></div><div class="cell" style="left:399.50px;top:89.00px;width:8px;height:32.8px;background:#25362a;"></div><div class="cell" style="left:409.10px;top:89.00px;width:8px;height:32.8px;background:#25362a;"></div><div class="cell" style="left:418.70px;top:89.00px;width:8px;height:32.8px;background:#25362a;"></div><div class="cell" style="left:428.30px;top:89.00px;width:8px;height:32.8px;background:#25362a;"></div><div class="cell" style="left:437.90px;top:89.00px;width:8px;height:32.8px;background:#25362a;"></div><div class="cell" style="left:447.50px;top:89.00px;width:8px;height:32.8px;background:#25362a;"></div><div class="cell" style="left:457.10px;top:89.00px;width:8px;height:32.8px;background:#25362a;"></div><div class="cell" style="left:466.70px;top:89.00px;width:8px;height:32.8px;background:#25362a;"></div><div class="cell" style="left:476.30px;top:89.00px;width:8px;height:32.8px;background:#25362a;"></div><div class="cell" style="left:485.90px;top:89.00px;width:8px;height:32.8px;background:#25362a;"></div><div class="cell" style="left:495.50px;top:89.00px;width:8px;height:32.8px;background:#25362a;"></div><div class="cell" style="left:505.10px;top:89.00px;width:8px;height:32.8px;background:#25362a;"></div><div class="cell" style="left:514.70px;top:89.00px;width:8px;height:32.8px;background:#25362a;"></div><div class="cell" style="left:524.30px;top:89.00px;width:8px;height:32.8px;background:#25362a;"></div><div class="cell" style="left:533.90px;top:89.00px;width:8px;height:32.8px;background:#25362a;"></div><div class="cell" style="left:543.50px;top:89.00px;width:8px;height:32.8px;background:#25362a;"></div><div class="cell" style="left:553.10px;top:89.00px;width:8px;height:32.8px;background:#25362a;"></div><div class="cell" style="left:562.70px;top:89.00px;width:8px;height:32.8px;background:#25362a;"></div><div class="cell" style="left:572.30px;top:89.00px;width:8px;height:32.8px;background:#25362a;"></div><div class="cell" style="left:581.90px;top:89.00px;width:8px;height:32.8px;background:#25362a;"></div><div class="cell" style="left:591.50px;top:89.00px;width:8px;height:32.8px;background:#25362a;"></div><div class="cell" style="left:601.10px;top:89.00px;width:8px;height:32.8px;background:#25362a;"></div><div class="cell" style="left:610.70px;top:89.00px;width:8px;height:32.8px;background:#25362a;"></div><div class="cell" style="left:620.30px;top:89.00px;width:8px;height:32.8px;background:#25362a;"></div><div class="cell" style="left:629.90px;top:89.00px;width:8px;height:32.8px;background:#25362a;"></div><div class="cell" style="left:639.50px;top:89.00px;width:8px;height:32.8px;background:#25362a;"></div><div class="cell" style="left:649.10px;top:89.00px;width:8px;height:32.8px;background:#25362a;"></div><div class="cell" style="left:658.70px;top:89.00px;width:8px;height:32.8px;background:#25362a;"></div><div class="cell" style="left:668.30px;top:89.00px;width:8px;height:32.8px;background:#25362a;"></div><div class="cell" style="left:677.90px;top:89.00px;width:8px;height:32.8px;background:#25362a;"></div><div class="cell" style="left:687.50px;top:89.00px;width:8px;height:32.8px;background:#25362a;"></div><div class="cell" style="left:697.10px;top:89.00px;width:8px;height:32.8px;background:#25362a;"></div><div class="cell" style="left:706.70px;top:89.00px;width:8px;height:32.8px;background:#25362a;"></div><div class="cell" style="left:716.30px;top:89.00px;width:8px;height:32.8px;background:#25362a;"></div><div class="cell" style="left:725.90px;top:89.00px;width:8px;height:32.8px;background:#25362a;"></div><div class="cell" style="left:735.50px;top:89.00px;width:8px;height:32.8px;background:#40232b;"></div><div class="cell" style="left:745.10px;top:89.00px;width:8px;height:32.8px;background:#40232b;"></div><div class="cell" style="left:754.70px;top:89.00px;width:8px;height:32.8px;background:#40232b;"></div><div class="cell" style="left:764.30px;top:89.00px;width:8px;height:32.8px;background:#40232b;"></div><div class="cell" style="left:773.90px;top:89.00px;width:8px;height:32.8px;background:#40232b;"></div><div class="cell" style="left:783.50px;top:89.00px;width:8px;height:32.8px;background:#40232b;"></div><div class="cell" style="left:793.10px;top:89.00px;width:8px;height:32.8px;background:#40232b;"></div><div class="cell" style="left:802.70px;top:89.00px;width:8px;height:32.8px;background:#40232b;"></div>
<span class="t" style="left:900.02px;top:98.99px;font-size:15.6px;line-height:15.6px;color:#5aad50;letter-spacing:0.649px;">B/s</span>
<span class="t" style="left:837.52px;top:95.95px;font-size:19.2px;line-height:19.2px;color:#5aad50;letter-spacing:0.099px;">915.28</span>
<span class="t" style="left:5.83px;top:128.07px;font-size:17.4px;line-height:17.4px;color:#d2d2e0;letter-spacing:1.113px;-webkit-text-stroke:0.2px #d2d2e0;">GigabitEthernet0/0/22 (TC-server01)</span>
<div class="cell" style="left:5.90px;top:150.60px;width:8px;height:32.8px;background:radial-gradient(ellipse at center,#55a74e 0%,#4b9545 55%,#427f3e 100%);"></div><div class="cell" style="left:15.50px;top:150.60px;width:8px;height:32.8px;background:#25362a;"></div><div class="cell" style="left:25.10px;top:150.60px;width:8px;height:32.8px;background:#25362a;"></div><div class="cell" style="left:34.70px;top:150.60px;width:8px;height:32.8px;background:#25362a;"></div><div class="cell" style="left:44.30px;top:150.60px;width:8px;height:32.8px;background:#25362a;"></div><div class="cell" style="left:53.90px;top:150.60px;width:8px;height:32.8px;background:#25362a;"></div><div class="cell" style="left:63.50px;top:150.60px;width:8px;height:32.8px;background:#25362a;"></div><div class="cell" style="left:73.10px;top:150.60px;width:8px;height:32.8px;background:#25362a;"></div><div class="cell" style="left:82.70px;top:150.60px;width:8px;height:32.8px;background:#25362a;"></div><div class="cell" style="left:92.30px;top:150.60px;width:8px;height:32.8px;background:#25362a;"></div><div class="cell" style="left:101.90px;top:150.60px;width:8px;height:32.8px;background:#25362a;"></div><div class="cell" style="left:111.50px;top:150.60px;width:8px;height:32.8px;background:#25362a;"></div><div class="cell" style="left:121.10px;top:150.60px;width:8px;height:32.8px;background:#25362a;"></div><div class="cell" style="left:130.70px;top:150.60px;width:8px;height:32.8px;background:#25362a;"></div><div class="cell" style="left:140.30px;top:150.60px;width:8px;height:32.8px;background:#25362a;"></div><div class="cell" style="left:149.90px;top:150.60px;width:8px;height:32.8px;background:#25362a;"></div><div class="cell" style="left:159.50px;top:150.60px;width:8px;height:32.8px;background:#25362a;"></div><div class="cell" style="left:169.10px;top:150.60px;width:8px;height:32.8px;background:#25362a;"></div><div class="cell" style="left:178.70px;top:150.60px;width:8px;height:32.8px;background:#25362a;"></div><div class="cell" style="left:188.30px;top:150.60px;width:8px;height:32.8px;background:#25362a;"></div><div class="cell" style="left:197.90px;top:150.60px;width:8px;height:32.8px;background:#25362a;"></div><div class="cell" style="left:207.50px;top:150.60px;width:8px;height:32.8px;background:#25362a;"></div><div class="cell" style="left:217.10px;top:150.60px;width:8px;height:32.8px;background:#25362a;"></div><div class="cell" style="left:226.70px;top:150.60px;width:8px;height:32.8px;background:#25362a;"></div><div class="cell" style="left:236.30px;top:150.60px;width:8px;height:32.8px;background:#25362a;"></div><div class="cell" style="left:245.90px;top:150.60px;width:8px;height:32.8px;background:#25362a;"></div><div class="cell" style="left:255.50px;top:150.60px;width:8px;height:32.8px;background:#25362a;"></div><div class="cell" style="left:265.10px;top:150.60px;width:8px;height:32.8px;background:#25362a;"></div><div class="cell" style="left:274.70px;top:150.60px;width:8px;height:32.8px;background:#25362a;"></div><div class="cell" style="left:284.30px;top:150.60px;width:8px;height:32.8px;background:#25362a;"></div><div class="cell" style="left:293.90px;top:150.60px;width:8px;height:32.8px;background:#25362a;"></div><div class="cell" style="left:303.50px;top:150.60px;width:8px;height:32.8px;background:#25362a;"></div><div class="cell" style="left:313.10px;top:150.60px;width:8px;height:32.8px;background:#25362a;"></div><div class="cell" style="left:322.70px;top:150.60px;width:8px;height:32.8px;background:#25362a;"></div><div class="cell" style="left:332.30px;top:150.60px;width:8px;height:32.8px;background:#25362a;"></div><div class="cell" style="left:341.90px;top:150.60px;width:8px;height:32.8px;background:#25362a;"></div><div class="cell" style="left:351.50px;top:150.60px;width:8px;height:32.8px;background:#25362a;"></div><div class="cell" style="left:361.10px;top:150.60px;width:8px;height:32.8px;background:#25362a;"></div><div class="cell" style="left:370.70px;top:150.60px;width:8px;height:32.8px;background:#25362a;"></div><div class="cell" style="left:380.30px;top:150.60px;width:8px;height:32.8px;background:#25362a;"></div><div class="cell" style="left:389.90px;top:150.60px;width:8px;height:32.8px;background:#25362a;"></div><div class="cell" style="left:399.50px;top:150.60px;width:8px;height:32.8px;background:#25362a;"></div><div class="cell" style="left:409.10px;top:150.60px;width:8px;height:32.8px;background:#25362a;"></div><div class="cell" style="left:418.70px;top:150.60px;width:8px;height:32.8px;background:#25362a;"></div><div class="cell" style="left:428.30px;top:150.60px;width:8px;height:32.8px;background:#25362a;"></div><div class="cell" style="left:437.90px;top:150.60px;width:8px;height:32.8px;background:#25362a;"></div><div class="cell" style="left:447.50px;top:150.60px;width:8px;height:32.8px;background:#25362a;"></div><div class="cell" style="left:457.10px;top:150.60px;width:8px;height:32.8px;background:#25362a;"></div><div class="cell" style="left:466.70px;top:150.60px;width:8px;height:32.8px;background:#25362a;"></div><div class="cell" style="left:476.30px;top:150.60px;width:8px;height:32.8px;background:#25362a;"></div><div class="cell" style="left:485.90px;top:150.60px;width:8px;height:32.8px;background:#25362a;"></div><div class="cell" style="left:495.50px;top:150.60px;width:8px;height:32.8px;background:#25362a;"></div><div class="cell" style="left:505.10px;top:150.60px;width:8px;height:32.8px;background:#25362a;"></div><div class="cell" style="left:514.70px;top:150.60px;width:8px;height:32.8px;background:#25362a;"></div><div class="cell" style="left:524.30px;top:150.60px;width:8px;height:32.8px;background:#25362a;"></div><div class="cell" style="left:533.90px;top:150.60px;width:8px;height:32.8px;background:#25362a;"></div><div class="cell" style="left:543.50px;top:150.60px;width:8px;height:32.8px;background:#25362a;"></div><div class="cell" style="left:553.10px;top:150.60px;width:8px;height:32.8px;background:#25362a;"></div><div class="cell" style="left:562.70px;top:150.60px;width:8px;height:32.8px;background:#25362a;"></div><div class="cell" style="left:572.30px;top:150.60px;width:8px;height:32.8px;background:#25362a;"></div><div class="cell" style="left:581.90px;top:150.60px;width:8px;height:32.8px;background:#25362a;"></div><div class="cell" style="left:591.50px;top:150.60px;width:8px;height:32.8px;background:#25362a;"></div><div class="cell" style="left:601.10px;top:150.60px;width:8px;height:32.8px;background:#25362a;"></div><div class="cell" style="left:610.70px;top:150.60px;width:8px;height:32.8px;background:#25362a;"></div><div class="cell" style="left:620.30px;top:150.60px;width:8px;height:32.8px;background:#25362a;"></div><div class="cell" style="left:629.90px;top:150.60px;width:8px;height:32.8px;background:#25362a;"></div><div class="cell" style="left:639.50px;top:150.60px;width:8px;height:32.8px;background:#25362a;"></div><div class="cell" style="left:649.10px;top:150.60px;width:8px;height:32.8px;background:#25362a;"></div><div class="cell" style="left:658.70px;top:150.60px;width:8px;height:32.8px;background:#25362a;"></div><div class="cell" style="left:668.30px;top:150.60px;width:8px;height:32.8px;background:#25362a;"></div><div class="cell" style="left:677.90px;top:150.60px;width:8px;height:32.8px;background:#25362a;"></div><div class="cell" style="left:687.50px;top:150.60px;width:8px;height:32.8px;background:#25362a;"></div><div class="cell" style="left:697.10px;top:150.60px;width:8px;height:32.8px;background:#25362a;"></div><div class="cell" style="left:706.70px;top:150.60px;width:8px;height:32.8px;background:#25362a;"></div><div class="cell" style="left:716.30px;top:150.60px;width:8px;height:32.8px;background:#25362a;"></div><div class="cell" style="left:725.90px;top:150.60px;width:8px;height:32.8px;background:#25362a;"></div><div class="cell" style="left:735.50px;top:150.60px;width:8px;height:32.8px;background:#40232b;"></div><div class="cell" style="left:745.10px;top:150.60px;width:8px;height:32.8px;background:#40232b;"></div><div class="cell" style="left:754.70px;top:150.60px;width:8px;height:32.8px;background:#40232b;"></div><div class="cell" style="left:764.30px;top:150.60px;width:8px;height:32.8px;background:#40232b;"></div><div class="cell" style="left:773.90px;top:150.60px;width:8px;height:32.8px;background:#40232b;"></div><div class="cell" style="left:783.50px;top:150.60px;width:8px;height:32.8px;background:#40232b;"></div><div class="cell" style="left:793.10px;top:150.60px;width:8px;height:32.8px;background:#40232b;"></div><div class="cell" style="left:802.70px;top:150.60px;width:8px;height:32.8px;background:#40232b;"></div>
<span class="t" style="left:891.75px;top:160.59px;font-size:15.6px;line-height:15.6px;color:#5aad50;letter-spacing:0.588px;">kB/s</span>
<span class="t" style="left:856.65px;top:157.55px;font-size:19.2px;line-height:19.2px;color:#5aad50;letter-spacing:-0.250px;transform:scaleX(0.8593);transform-origin:0 0;">1.18</span>
<span class="t" style="left:5.83px;top:189.67px;font-size:17.4px;line-height:17.4px;color:#d2d2e0;letter-spacing:1.113px;-webkit-text-stroke:0.2px #d2d2e0;">GigabitEthernet0/0/19 (TC-server02)</span>
<div class="cell" style="left:5.90px;top:212.20px;width:8px;height:32.8px;background:radial-gradient(ellipse at center,#55a74e 0%,#4b9545 55%,#427f3e 100%);"></div><div class="cell" style="left:15.50px;top:212.20px;width:8px;height:32.8px;background:#25362a;"></div><div class="cell" style="left:25.10px;top:212.20px;width:8px;height:32.8px;background:#25362a;"></div><div class="cell" style="left:34.70px;top:212.20px;width:8px;height:32.8px;background:#25362a;"></div><div class="cell" style="left:44.30px;top:212.20px;width:8px;height:32.8px;background:#25362a;"></div><div class="cell" style="left:53.90px;top:212.20px;width:8px;height:32.8px;background:#25362a;"></div><div class="cell" style="left:63.50px;top:212.20px;width:8px;height:32.8px;background:#25362a;"></div><div class="cell" style="left:73.10px;top:212.20px;width:8px;height:32.8px;background:#25362a;"></div><div class="cell" style="left:82.70px;top:212.20px;width:8px;height:32.8px;background:#25362a;"></div><div class="cell" style="left:92.30px;top:212.20px;width:8px;height:32.8px;background:#25362a;"></div><div class="cell" style="left:101.90px;top:212.20px;width:8px;height:32.8px;background:#25362a;"></div><div class="cell" style="left:111.50px;top:212.20px;width:8px;height:32.8px;background:#25362a;"></div><div class="cell" style="left:121.10px;top:212.20px;width:8px;height:32.8px;background:#25362a;"></div><div class="cell" style="left:130.70px;top:212.20px;width:8px;height:32.8px;background:#25362a;"></div><div class="cell" style="left:140.30px;top:212.20px;width:8px;height:32.8px;background:#25362a;"></div><div class="cell" style="left:149.90px;top:212.20px;width:8px;height:32.8px;background:#25362a;"></div><div class="cell" style="left:159.50px;top:212.20px;width:8px;height:32.8px;background:#25362a;"></div><div class="cell" style="left:169.10px;top:212.20px;width:8px;height:32.8px;background:#25362a;"></div><div class="cell" style="left:178.70px;top:212.20px;width:8px;height:32.8px;background:#25362a;"></div><div class="cell" style="left:188.30px;top:212.20px;width:8px;height:32.8px;background:#25362a;"></div><div class="cell" style="left:197.90px;top:212.20px;width:8px;height:32.8px;background:#25362a;"></div><div class="cell" style="left:207.50px;top:212.20px;width:8px;height:32.8px;background:#25362a;"></div><div class="cell" style="left:217.10px;top:212.20px;width:8px;height:32.8px;background:#25362a;"></div><div class="cell" style="left:226.70px;top:212.20px;width:8px;height:32.8px;background:#25362a;"></div><div class="cell" style="left:236.30px;top:212.20px;width:8px;height:32.8px;background:#25362a;"></div><div class="cell" style="left:245.90px;top:212.20px;width:8px;height:32.8px;background:#25362a;"></div><div class="cell" style="left:255.50px;top:212.20px;width:8px;height:32.8px;background:#25362a;"></div><div class="cell" style="left:265.10px;top:212.20px;width:8px;height:32.8px;background:#25362a;"></div><div class="cell" style="left:274.70px;top:212.20px;width:8px;height:32.8px;background:#25362a;"></div><div class="cell" style="left:284.30px;top:212.20px;width:8px;height:32.8px;background:#25362a;"></div><div class="cell" style="left:293.90px;top:212.20px;width:8px;height:32.8px;background:#25362a;"></div><div class="cell" style="left:303.50px;top:212.20px;width:8px;height:32.8px;background:#25362a;"></div><div class="cell" style="left:313.10px;top:212.20px;width:8px;height:32.8px;background:#25362a;"></div><div class="cell" style="left:322.70px;top:212.20px;width:8px;height:32.8px;background:#25362a;"></div><div class="cell" style="left:332.30px;top:212.20px;width:8px;height:32.8px;background:#25362a;"></div><div class="cell" style="left:341.90px;top:212.20px;width:8px;height:32.8px;background:#25362a;"></div><div class="cell" style="left:351.50px;top:212.20px;width:8px;height:32.8px;background:#25362a;"></div><div class="cell" style="left:361.10px;top:212.20px;width:8px;height:32.8px;background:#25362a;"></div><div class="cell" style="left:370.70px;top:212.20px;width:8px;height:32.8px;background:#25362a;"></div><div class="cell" style="left:380.30px;top:212.20px;width:8px;height:32.8px;background:#25362a;"></div><div class="cell" style="left:389.90px;top:212.20px;width:8px;height:32.8px;background:#25362a;"></div><div class="cell" style="left:399.50px;top:212.20px;width:8px;height:32.8px;background:#25362a;"></div><div class="cell" style="left:409.10px;top:212.20px;width:8px;height:32.8px;background:#25362a;"></div><div class="cell" style="left:418.70px;top:212.20px;width:8px;height:32.8px;background:#25362a;"></div><div class="cell" style="left:428.30px;top:212.20px;width:8px;height:32.8px;background:#25362a;"></div><div class="cell" style="left:437.90px;top:212.20px;width:8px;height:32.8px;background:#25362a;"></div><div class="cell" style="left:447.50px;top:212.20px;width:8px;height:32.8px;background:#25362a;"></div><div class="cell" style="left:457.10px;top:212.20px;width:8px;height:32.8px;background:#25362a;"></div><div class="cell" style="left:466.70px;top:212.20px;width:8px;height:32.8px;background:#25362a;"></div><div class="cell" style="left:476.30px;top:212.20px;width:8px;height:32.8px;background:#25362a;"></div><div class="cell" style="left:485.90px;top:212.20px;width:8px;height:32.8px;background:#25362a;"></div><div class="cell" style="left:495.50px;top:212.20px;width:8px;height:32.8px;background:#25362a;"></div><div class="cell" style="left:505.10px;top:212.20px;width:8px;height:32.8px;background:#25362a;"></div><div class="cell" style="left:514.70px;top:212.20px;width:8px;height:32.8px;background:#25362a;"></div><div class="cell" style="left:524.30px;top:212.20px;width:8px;height:32.8px;background:#25362a;"></div><div class="cell" style="left:533.90px;top:212.20px;width:8px;height:32.8px;background:#25362a;"></div><div class="cell" style="left:543.50px;top:212.20px;width:8px;height:32.8px;background:#25362a;"></div><div class="cell" style="left:553.10px;top:212.20px;width:8px;height:32.8px;background:#25362a;"></div><div class="cell" style="left:562.70px;top:212.20px;width:8px;height:32.8px;background:#25362a;"></div><div class="cell" style="left:572.30px;top:212.20px;width:8px;height:32.8px;background:#25362a;"></div><div class="cell" style="left:581.90px;top:212.20px;width:8px;height:32.8px;background:#25362a;"></div><div class="cell" style="left:591.50px;top:212.20px;width:8px;height:32.8px;background:#25362a;"></div><div class="cell" style="left:601.10px;top:212.20px;width:8px;height:32.8px;background:#25362a;"></div><div class="cell" style="left:610.70px;top:212.20px;width:8px;height:32.8px;background:#25362a;"></div><div class="cell" style="left:620.30px;top:212.20px;width:8px;height:32.8px;background:#25362a;"></div><div class="cell" style="left:629.90px;top:212.20px;width:8px;height:32.8px;background:#25362a;"></div><div class="cell" style="left:639.50px;top:212.20px;width:8px;height:32.8px;background:#25362a;"></div><div class="cell" style="left:649.10px;top:212.20px;width:8px;height:32.8px;background:#25362a;"></div><div class="cell" style="left:658.70px;top:212.20px;width:8px;height:32.8px;background:#25362a;"></div><div class="cell" style="left:668.30px;top:212.20px;width:8px;height:32.8px;background:#25362a;"></div><div class="cell" style="left:677.90px;top:212.20px;width:8px;height:32.8px;background:#25362a;"></div><div class="cell" style="left:687.50px;top:212.20px;width:8px;height:32.8px;background:#25362a;"></div><div class="cell" style="left:697.10px;top:212.20px;width:8px;height:32.8px;background:#25362a;"></div><div class="cell" style="left:706.70px;top:212.20px;width:8px;height:32.8px;background:#25362a;"></div><div class="cell" style="left:716.30px;top:212.20px;width:8px;height:32.8px;background:#25362a;"></div><div class="cell" style="left:725.90px;top:212.20px;width:8px;height:32.8px;background:#25362a;"></div><div class="cell" style="left:735.50px;top:212.20px;width:8px;height:32.8px;background:#40232b;"></div><div class="cell" style="left:745.10px;top:212.20px;width:8px;height:32.8px;background:#40232b;"></div><div class="cell" style="left:754.70px;top:212.20px;width:8px;height:32.8px;background:#40232b;"></div><div class="cell" style="left:764.30px;top:212.20px;width:8px;height:32.8px;background:#40232b;"></div><div class="cell" style="left:773.90px;top:212.20px;width:8px;height:32.8px;background:#40232b;"></div><div class="cell" style="left:783.50px;top:212.20px;width:8px;height:32.8px;background:#40232b;"></div><div class="cell" style="left:793.10px;top:212.20px;width:8px;height:32.8px;background:#40232b;"></div><div class="cell" style="left:802.70px;top:212.20px;width:8px;height:32.8px;background:#40232b;"></div>
<span class="t" style="left:923.30px;top:222.19px;font-size:15.6px;line-height:15.6px;color:#5aad50;"></span>
<span class="t" style="left:917.90px;top:219.15px;font-size:19.2px;line-height:19.2px;color:#5aad50;"></span>
</div>
<div style="left:19.80px;top:849.80px;width:916.20px;height:5.00px;background:#414350;border:0.8px solid #08090b;"></div>
<div style="left:942.60px;top:848.80px;width:7.00px;height:7.20px;background:#ffffff;border:0.5px solid #0b0c0e;"></div>
<div style="left:942.60px;top:628.20px;width:6.20px;height:40.00px;background:#42434d;border:1px solid #0b0c0e;border-radius:2px;"></div>
<div class="p" style="left:963.20px;top:595.20px;width:943.80px;height:267.20px;"></div>
<span class="t" style="left:969.64px;top:602.72px;font-size:11.2px;line-height:11.2px;color:#ccccdc;letter-spacing:0.602px;-webkit-text-stroke:0.35px #ccccdc;">In (Current)</span>
<svg class="a" style="left:1046.70px;top:602.60px;" width="12" height="12" viewBox="0 0 12 12"><circle cx="6" cy="6" r="4.9" fill="none" stroke="#9d9fab" stroke-width="1"/><path d="M6 5.6 V8.4" stroke="#9d9fab" stroke-width="1.1" stroke-linecap="round"/><circle cx="6" cy="3.8" r="0.6" fill="#9d9fab"/></svg>
<div style="left:964.2px;top:628.0px;width:941.8px;height:221.30px;overflow:hidden;">
<div class="cell" style="left:6.30px;top:-17.70px;width:8px;height:32.8px;background:radial-gradient(ellipse at center,#3779dc 0%,#3069c2 55%,#2c5ca6 100%);"></div><div class="cell" style="left:15.90px;top:-17.70px;width:8px;height:32.8px;background:#1f2e45;"></div><div class="cell" style="left:25.50px;top:-17.70px;width:8px;height:32.8px;background:#1f2e45;"></div><div class="cell" style="left:35.10px;top:-17.70px;width:8px;height:32.8px;background:#1f2e45;"></div><div class="cell" style="left:44.70px;top:-17.70px;width:8px;height:32.8px;background:#1f2e45;"></div><div class="cell" style="left:54.30px;top:-17.70px;width:8px;height:32.8px;background:#1f2e45;"></div><div class="cell" style="left:63.90px;top:-17.70px;width:8px;height:32.8px;background:#1f2e45;"></div><div class="cell" style="left:73.50px;top:-17.70px;width:8px;height:32.8px;background:#1f2e45;"></div><div class="cell" style="left:83.10px;top:-17.70px;width:8px;height:32.8px;background:#1f2e45;"></div><div class="cell" style="left:92.70px;top:-17.70px;width:8px;height:32.8px;background:#1f2e45;"></div><div class="cell" style="left:102.30px;top:-17.70px;width:8px;height:32.8px;background:#1f2e45;"></div><div class="cell" style="left:111.90px;top:-17.70px;width:8px;height:32.8px;background:#1f2e45;"></div><div class="cell" style="left:121.50px;top:-17.70px;width:8px;height:32.8px;background:#1f2e45;"></div><div class="cell" style="left:131.10px;top:-17.70px;width:8px;height:32.8px;background:#1f2e45;"></div><div class="cell" style="left:140.70px;top:-17.70px;width:8px;height:32.8px;background:#1f2e45;"></div><div class="cell" style="left:150.30px;top:-17.70px;width:8px;height:32.8px;background:#1f2e45;"></div><div class="cell" style="left:159.90px;top:-17.70px;width:8px;height:32.8px;background:#1f2e45;"></div><div class="cell" style="left:169.50px;top:-17.70px;width:8px;height:32.8px;background:#1f2e45;"></div><div class="cell" style="left:179.10px;top:-17.70px;width:8px;height:32.8px;background:#1f2e45;"></div><div class="cell" style="left:188.70px;top:-17.70px;width:8px;height:32.8px;background:#1f2e45;"></div><div class="cell" style="left:198.30px;top:-17.70px;width:8px;height:32.8px;background:#1f2e45;"></div><div class="cell" style="left:207.90px;top:-17.70px;width:8px;height:32.8px;background:#1f2e45;"></div><div class="cell" style="left:217.50px;top:-17.70px;width:8px;height:32.8px;background:#1f2e45;"></div><div class="cell" style="left:227.10px;top:-17.70px;width:8px;height:32.8px;background:#1f2e45;"></div><div class="cell" style="left:236.70px;top:-17.70px;width:8px;height:32.8px;background:#1f2e45;"></div><div class="cell" style="left:246.30px;top:-17.70px;width:8px;height:32.8px;background:#1f2e45;"></div><div class="cell" style="left:255.90px;top:-17.70px;width:8px;height:32.8px;background:#1f2e45;"></div><div class="cell" style="left:265.50px;top:-17.70px;width:8px;height:32.8px;background:#1f2e45;"></div><div class="cell" style="left:275.10px;top:-17.70px;width:8px;height:32.8px;background:#1f2e45;"></div><div class="cell" style="left:284.70px;top:-17.70px;width:8px;height:32.8px;background:#1f2e45;"></div><div class="cell" style="left:294.30px;top:-17.70px;width:8px;height:32.8px;background:#1f2e45;"></div><div class="cell" style="left:303.90px;top:-17.70px;width:8px;height:32.8px;background:#1f2e45;"></div><div class="cell" style="left:313.50px;top:-17.70px;width:8px;height:32.8px;background:#1f2e45;"></div><div class="cell" style="left:323.10px;top:-17.70px;width:8px;height:32.8px;background:#1f2e45;"></div><div class="cell" style="left:332.70px;top:-17.70px;width:8px;height:32.8px;background:#1f2e45;"></div><div class="cell" style="left:342.30px;top:-17.70px;width:8px;height:32.8px;background:#1f2e45;"></div><div class="cell" style="left:351.90px;top:-17.70px;width:8px;height:32.8px;background:#1f2e45;"></div><div class="cell" style="left:361.50px;top:-17.70px;width:8px;height:32.8px;background:#1f2e45;"></div><div class="cell" style="left:371.10px;top:-17.70px;width:8px;height:32.8px;background:#1f2e45;"></div><div class="cell" style="left:380.70px;top:-17.70px;width:8px;height:32.8px;background:#1f2e45;"></div><div class="cell" style="left:390.30px;top:-17.70px;width:8px;height:32.8px;background:#1f2e45;"></div><div class="cell" style="left:399.90px;top:-17.70px;width:8px;height:32.8px;background:#1f2e45;"></div><div class="cell" style="left:409.50px;top:-17.70px;width:8px;height:32.8px;background:#1f2e45;"></div><div class="cell" style="left:419.10px;top:-17.70px;width:8px;height:32.8px;background:#1f2e45;"></div><div class="cell" style="left:428.70px;top:-17.70px;width:8px;height:32.8px;background:#1f2e45;"></div><div class="cell" style="left:438.30px;top:-17.70px;width:8px;height:32.8px;background:#1f2e45;"></div><div class="cell" style="left:447.90px;top:-17.70px;width:8px;height:32.8px;background:#1f2e45;"></div><div class="cell" style="left:457.50px;top:-17.70px;width:8px;height:32.8px;background:#1f2e45;"></div><div class="cell" style="left:467.10px;top:-17.70px;width:8px;height:32.8px;background:#1f2e45;"></div><div class="cell" style="left:476.70px;top:-17.70px;width:8px;height:32.8px;background:#1f2e45;"></div><div class="cell" style="left:486.30px;top:-17.70px;width:8px;height:32.8px;background:#1f2e45;"></div><div class="cell" style="left:495.90px;top:-17.70px;width:8px;height:32.8px;background:#1f2e45;"></div><div class="cell" style="left:505.50px;top:-17.70px;width:8px;height:32.8px;background:#1f2e45;"></div><div class="cell" style="left:515.10px;top:-17.70px;width:8px;height:32.8px;background:#1f2e45;"></div><div class="cell" style="left:524.70px;top:-17.70px;width:8px;height:32.8px;background:#1f2e45;"></div><div class="cell" style="left:534.30px;top:-17.70px;width:8px;height:32.8px;background:#1f2e45;"></div><div class="cell" style="left:543.90px;top:-17.70px;width:8px;height:32.8px;background:#1f2e45;"></div><div class="cell" style="left:553.50px;top:-17.70px;width:8px;height:32.8px;background:#1f2e45;"></div><div class="cell" style="left:563.10px;top:-17.70px;width:8px;height:32.8px;background:#1f2e45;"></div><div class="cell" style="left:572.70px;top:-17.70px;width:8px;height:32.8px;background:#1f2e45;"></div><div class="cell" style="left:582.30px;top:-17.70px;width:8px;height:32.8px;background:#1f2e45;"></div><div class="cell" style="left:591.90px;top:-17.70px;width:8px;height:32.8px;background:#1f2e45;"></div><div class="cell" style="left:601.50px;top:-17.70px;width:8px;height:32.8px;background:#1f2e45;"></div><div class="cell" style="left:611.10px;top:-17.70px;width:8px;height:32.8px;background:#1f2e45;"></div><div class="cell" style="left:620.70px;top:-17.70px;width:8px;height:32.8px;background:#1f2e45;"></div><div class="cell" style="left:630.30px;top:-17.70px;width:8px;height:32.8px;background:#1f2e45;"></div><div class="cell" style="left:639.90px;top:-17.70px;width:8px;height:32.8px;background:#1f2e45;"></div><div class="cell" style="left:649.50px;top:-17.70px;width:8px;height:32.8px;background:#1f2e45;"></div><div class="cell" style="left:659.10px;top:-17.70px;width:8px;height:32.8px;background:#1f2e45;"></div><div class="cell" style="left:668.70px;top:-17.70px;width:8px;height:32.8px;background:#1f2e45;"></div><div class="cell" style="left:678.30px;top:-17.70px;width:8px;height:32.8px;background:#1f2e45;"></div><div class="cell" style="left:687.90px;top:-17.70px;width:8px;height:32.8px;background:#1f2e45;"></div><div class="cell" style="left:697.50px;top:-17.70px;width:8px;height:32.8px;background:#1f2e45;"></div><div class="cell" style="left:707.10px;top:-17.70px;width:8px;height:32.8px;background:#1f2e45;"></div><div class="cell" style="left:716.70px;top:-17.70px;width:8px;height:32.8px;background:#1f2e45;"></div><div class="cell" style="left:726.30px;top:-17.70px;width:8px;height:32.8px;background:#1f2e45;"></div><div class="cell" style="left:735.90px;top:-17.70px;width:8px;height:32.8px;background:#40232b;"></div><div class="cell" style="left:745.50px;top:-17.70px;width:8px;height:32.8px;background:#40232b;"></div><div class="cell" style="left:755.10px;top:-17.70px;width:8px;height:32.8px;background:#40232b;"></div><div class="cell" style="left:764.70px;top:-17.70px;width:8px;height:32.8px;background:#40232b;"></div><div class="cell" style="left:774.30px;top:-17.70px;width:8px;height:32.8px;background:#40232b;"></div><div class="cell" style="left:783.90px;top:-17.70px;width:8px;height:32.8px;background:#40232b;"></div><div class="cell" style="left:793.50px;top:-17.70px;width:8px;height:32.8px;background:#40232b;"></div><div class="cell" style="left:803.10px;top:-17.70px;width:8px;height:32.8px;background:#40232b;"></div>
<span class="t" style="left:901.32px;top:-7.71px;font-size:15.6px;line-height:15.6px;color:#3576dc;letter-spacing:0.649px;">B/s</span>
<span class="t" style="left:857.85px;top:-10.75px;font-size:19.2px;line-height:19.2px;color:#3576dc;letter-spacing:0.538px;">0.00</span>
<span class="t" style="left:5.93px;top:21.37px;font-size:17.4px;line-height:17.4px;color:#d2d2e0;letter-spacing:1.053px;-webkit-text-stroke:0.2px #d2d2e0;">GigabitEthernet0/0/5 (to SAP-vCenter-Esxi)</span>
<div class="cell" style="left:6.30px;top:43.90px;width:8px;height:32.8px;background:radial-gradient(ellipse at center,#3779dc 0%,#3069c2 55%,#2c5ca6 100%);"></div><div class="cell" style="left:15.90px;top:43.90px;width:8px;height:32.8px;background:radial-gradient(ellipse at center,#3779dc 0%,#3069c2 55%,#2c5ca6 100%);"></div><div class="cell" style="left:25.50px;top:43.90px;width:8px;height:32.8px;background:radial-gradient(ellipse at center,#3779dc 0%,#3069c2 55%,#2c5ca6 100%);"></div><div class="cell" style="left:35.10px;top:43.90px;width:8px;height:32.8px;background:#1f2e45;"></div><div class="cell" style="left:44.70px;top:43.90px;width:8px;height:32.8px;background:#1f2e45;"></div><div class="cell" style="left:54.30px;top:43.90px;width:8px;height:32.8px;background:#1f2e45;"></div><div class="cell" style="left:63.90px;top:43.90px;width:8px;height:32.8px;background:#1f2e45;"></div><div class="cell" style="left:73.50px;top:43.90px;width:8px;height:32.8px;background:#1f2e45;"></div><div class="cell" style="left:83.10px;top:43.90px;width:8px;height:32.8px;background:#1f2e45;"></div><div class="cell" style="left:92.70px;top:43.90px;width:8px;height:32.8px;background:#1f2e45;"></div><div class="cell" style="left:102.30px;top:43.90px;width:8px;height:32.8px;background:#1f2e45;"></div><div class="cell" style="left:111.90px;top:43.90px;width:8px;height:32.8px;background:#1f2e45;"></div><div class="cell" style="left:121.50px;top:43.90px;width:8px;height:32.8px;background:#1f2e45;"></div><div class="cell" style="left:131.10px;top:43.90px;width:8px;height:32.8px;background:#1f2e45;"></div><div class="cell" style="left:140.70px;top:43.90px;width:8px;height:32.8px;background:#1f2e45;"></div><div class="cell" style="left:150.30px;top:43.90px;width:8px;height:32.8px;background:#1f2e45;"></div><div class="cell" style="left:159.90px;top:43.90px;width:8px;height:32.8px;background:#1f2e45;"></div><div class="cell" style="left:169.50px;top:43.90px;width:8px;height:32.8px;background:#1f2e45;"></div><div class="cell" style="left:179.10px;top:43.90px;width:8px;height:32.8px;background:#1f2e45;"></div><div class="cell" style="left:188.70px;top:43.90px;width:8px;height:32.8px;background:#1f2e45;"></div><div class="cell" style="left:198.30px;top:43.90px;width:8px;height:32.8px;background:#1f2e45;"></div><div class="cell" style="left:207.90px;top:43.90px;width:8px;height:32.8px;background:#1f2e45;"></div><div class="cell" style="left:217.50px;top:43.90px;width:8px;height:32.8px;background:#1f2e45;"></div><div class="cell" style="left:227.10px;top:43.90px;width:8px;height:32.8px;background:#1f2e45;"></div><div class="cell" style="left:236.70px;top:43.90px;width:8px;height:32.8px;background:#1f2e45;"></div><div class="cell" style="left:246.30px;top:43.90px;width:8px;height:32.8px;background:#1f2e45;"></div><div class="cell" style="left:255.90px;top:43.90px;width:8px;height:32.8px;background:#1f2e45;"></div><div class="cell" style="left:265.50px;top:43.90px;width:8px;height:32.8px;background:#1f2e45;"></div><div class="cell" style="left:275.10px;top:43.90px;width:8px;height:32.8px;background:#1f2e45;"></div><div class="cell" style="left:284.70px;top:43.90px;width:8px;height:32.8px;background:#1f2e45;"></div><div class="cell" style="left:294.30px;top:43.90px;width:8px;height:32.8px;background:#1f2e45;"></div><div class="cell" style="left:303.90px;top:43.90px;width:8px;height:32.8px;background:#1f2e45;"></div><div class="cell" style="left:313.50px;top:43.90px;width:8px;height:32.8px;background:#1f2e45;"></div><div class="cell" style="left:323.10px;top:43.90px;width:8px;height:32.8px;background:#1f2e45;"></div><div class="cell" style="left:332.70px;top:43.90px;width:8px;height:32.8px;background:#1f2e45;"></div><div class="cell" style="left:342.30px;top:43.90px;width:8px;height:32.8px;background:#1f2e45;"></div><div class="cell" style="left:351.90px;top:43.90px;width:8px;height:32.8px;background:#1f2e45;"></div><div class="cell" style="left:361.50px;top:43.90px;width:8px;height:32.8px;background:#1f2e45;"></div><div class="cell" style="left:371.10px;top:43.90px;width:8px;height:32.8px;background:#1f2e45;"></div><div class="cell" style="left:380.70px;top:43.90px;width:8px;height:32.8px;background:#1f2e45;"></div><div class="cell" style="left:390.30px;top:43.90px;width:8px;height:32.8px;background:#1f2e45;"></div><div class="cell" style="left:399.90px;top:43.90px;width:8px;height:32.8px;background:#1f2e45;"></div><div class="cell" style="left:409.50px;top:43.90px;width:8px;height:32.8px;background:#1f2e45;"></div><div class="cell" style="left:419.10px;top:43.90px;width:8px;height:32.8px;background:#1f2e45;"></div><div class="cell" style="left:428.70px;top:43.90px;width:8px;height:32.8px;background:#1f2e45;"></div><div class="cell" style="left:438.30px;top:43.90px;width:8px;height:32.8px;background:#1f2e45;"></div><div class="cell" style="left:447.90px;top:43.90px;width:8px;height:32.8px;background:#1f2e45;"></div><div class="cell" style="left:457.50px;top:43.90px;width:8px;height:32.8px;background:#1f2e45;"></div><div class="cell" style="left:467.10px;top:43.90px;width:8px;height:32.8px;background:#1f2e45;"></div><div class="cell" style="left:476.70px;top:43.90px;width:8px;height:32.8px;background:#1f2e45;"></div><div class="cell" style="left:486.30px;top:43.90px;width:8px;height:32.8px;background:#1f2e45;"></div><div class="cell" style="left:495.90px;top:43.90px;width:8px;height:32.8px;background:#1f2e45;"></div><div class="cell" style="left:505.50px;top:43.90px;width:8px;height:32.8px;background:#1f2e45;"></div><div class="cell" style="left:515.10px;top:43.90px;width:8px;height:32.8px;background:#1f2e45;"></div><div class="cell" style="left:524.70px;top:43.90px;width:8px;height:32.8px;background:#1f2e45;"></div><div class="cell" style="left:534.30px;top:43.90px;width:8px;height:32.8px;background:#1f2e45;"></div><div class="cell" style="left:543.90px;top:43.90px;width:8px;height:32.8px;background:#1f2e45;"></div><div class="cell" style="left:553.50px;top:43.90px;width:8px;height:32.8px;background:#1f2e45;"></div><div class="cell" style="left:563.10px;top:43.90px;width:8px;height:32.8px;background:#1f2e45;"></div><div class="cell" style="left:572.70px;top:43.90px;width:8px;height:32.8px;background:#1f2e45;"></div><div class="cell" style="left:582.30px;top:43.90px;width:8px;height:32.8px;background:#1f2e45;"></div><div class="cell" style="left:591.90px;top:43.90px;width:8px;height:32.8px;background:#1f2e45;"></div><div class="cell" style="left:601.50px;top:43.90px;width:8px;height:32.8px;background:#1f2e45;"></div><div class="cell" style="left:611.10px;top:43.90px;width:8px;height:32.8px;background:#1f2e45;"></div><div class="cell" style="left:620.70px;top:43.90px;width:8px;height:32.8px;background:#1f2e45;"></div><div class="cell" style="left:630.30px;top:43.90px;width:8px;height:32.8px;background:#1f2e45;"></div><div class="cell" style="left:639.90px;top:43.90px;width:8px;height:32.8px;background:#1f2e45;"></div><div class="cell" style="left:649.50px;top:43.90px;width:8px;height:32.8px;background:#1f2e45;"></div><div class="cell" style="left:659.10px;top:43.90px;width:8px;height:32.8px;background:#1f2e45;"></div><div class="cell" style="left:668.70px;top:43.90px;width:8px;height:32.8px;background:#1f2e45;"></div><div class="cell" style="left:678.30px;top:43.90px;width:8px;height:32.8px;background:#1f2e45;"></div><div class="cell" style="left:687.90px;top:43.90px;width:8px;height:32.8px;background:#1f2e45;"></div><div class="cell" style="left:697.50px;top:43.90px;width:8px;height:32.8px;background:#1f2e45;"></div><div class="cell" style="left:707.10px;top:43.90px;width:8px;height:32.8px;background:#1f2e45;"></div><div class="cell" style="left:716.70px;top:43.90px;width:8px;height:32.8px;background:#1f2e45;"></div><div class="cell" style="left:726.30px;top:43.90px;width:8px;height:32.8px;background:#1f2e45;"></div><div class="cell" style="left:735.90px;top:43.90px;width:8px;height:32.8px;background:#40232b;"></div><div class="cell" style="left:745.50px;top:43.90px;width:8px;height:32.8px;background:#40232b;"></div><div class="cell" style="left:755.10px;top:43.90px;width:8px;height:32.8px;background:#40232b;"></div><div class="cell" style="left:764.70px;top:43.90px;width:8px;height:32.8px;background:#40232b;"></div><div class="cell" style="left:774.30px;top:43.90px;width:8px;height:32.8px;background:#40232b;"></div><div class="cell" style="left:783.90px;top:43.90px;width:8px;height:32.8px;background:#40232b;"></div><div class="cell" style="left:793.50px;top:43.90px;width:8px;height:32.8px;background:#40232b;"></div><div class="cell" style="left:803.10px;top:43.90px;width:8px;height:32.8px;background:#40232b;"></div>
<span class="t" style="left:893.25px;top:53.89px;font-size:15.6px;line-height:15.6px;color:#3576dc;letter-spacing:0.522px;">kB/s</span>
<span class="t" style="left:831.07px;top:50.85px;font-size:19.2px;line-height:19.2px;color:#3576dc;letter-spacing:-0.205px;">351.62</span>
<span class="t" style="left:6.73px;top:82.97px;font-size:17.4px;line-height:17.4px;color:#d2d2e0;letter-spacing:0.831px;-webkit-text-stroke:0.2px #d2d2e0;">Vlanif19 (to SAP-vCenter-Esxi)</span>
<div class="cell" style="left:6.30px;top:105.50px;width:8px;height:32.8px;background:radial-gradient(ellipse at center,#3779dc 0%,#3069c2 55%,#2c5ca6 100%);"></div><div class="cell" style="left:15.90px;top:105.50px;width:8px;height:32.8px;background:#1f2e45;"></div><div class="cell" style="left:25.50px;top:105.50px;width:8px;height:32.8px;background:#1f2e45;"></div><div class="cell" style="left:35.10px;top:105.50px;width:8px;height:32.8px;background:#1f2e45;"></div><div class="cell" style="left:44.70px;top:105.50px;width:8px;height:32.8px;background:#1f2e45;"></div><div class="cell" style="left:54.30px;top:105.50px;width:8px;height:32.8px;background:#1f2e45;"></div><div class="cell" style="left:63.90px;top:105.50px;width:8px;height:32.8px;background:#1f2e45;"></div><div class="cell" style="left:73.50px;top:105.50px;width:8px;height:32.8px;background:#1f2e45;"></div><div class="cell" style="left:83.10px;top:105.50px;width:8px;height:32.8px;background:#1f2e45;"></div><div class="cell" style="left:92.70px;top:105.50px;width:8px;height:32.8px;background:#1f2e45;"></div><div class="cell" style="left:102.30px;top:105.50px;width:8px;height:32.8px;background:#1f2e45;"></div><div class="cell" style="left:111.90px;top:105.50px;width:8px;height:32.8px;background:#1f2e45;"></div><div class="cell" style="left:121.50px;top:105.50px;width:8px;height:32.8px;background:#1f2e45;"></div><div class="cell" style="left:131.10px;top:105.50px;width:8px;height:32.8px;background:#1f2e45;"></div><div class="cell" style="left:140.70px;top:105.50px;width:8px;height:32.8px;background:#1f2e45;"></div><div class="cell" style="left:150.30px;top:105.50px;width:8px;height:32.8px;background:#1f2e45;"></div><div class="cell" style="left:159.90px;top:105.50px;width:8px;height:32.8px;background:#1f2e45;"></div><div class="cell" style="left:169.50px;top:105.50px;width:8px;height:32.8px;background:#1f2e45;"></div><div class="cell" style="left:179.10px;top:105.50px;width:8px;height:32.8px;background:#1f2e45;"></div><div class="cell" style="left:188.70px;top:105.50px;width:8px;height:32.8px;background:#1f2e45;"></div><div class="cell" style="left:198.30px;top:105.50px;width:8px;height:32.8px;background:#1f2e45;"></div><div class="cell" style="left:207.90px;top:105.50px;width:8px;height:32.8px;background:#1f2e45;"></div><div class="cell" style="left:217.50px;top:105.50px;width:8px;height:32.8px;background:#1f2e45;"></div><div class="cell" style="left:227.10px;top:105.50px;width:8px;height:32.8px;background:#1f2e45;"></div><div class="cell" style="left:236.70px;top:105.50px;width:8px;height:32.8px;background:#1f2e45;"></div><div class="cell" style="left:246.30px;top:105.50px;width:8px;height:32.8px;background:#1f2e45;"></div><div class="cell" style="left:255.90px;top:105.50px;width:8px;height:32.8px;background:#1f2e45;"></div><div class="cell" style="left:265.50px;top:105.50px;width:8px;height:32.8px;background:#1f2e45;"></div><div class="cell" style="left:275.10px;top:105.50px;width:8px;height:32.8px;background:#1f2e45;"></div><div class="cell" style="left:284.70px;top:105.50px;width:8px;height:32.8px;background:#1f2e45;"></div><div class="cell" style="left:294.30px;top:105.50px;width:8px;height:32.8px;background:#1f2e45;"></div><div class="cell" style="left:303.90px;top:105.50px;width:8px;height:32.8px;background:#1f2e45;"></div><div class="cell" style="left:313.50px;top:105.50px;width:8px;height:32.8px;background:#1f2e45;"></div><div class="cell" style="left:323.10px;top:105.50px;width:8px;height:32.8px;background:#1f2e45;"></div><div class="cell" style="left:332.70px;top:105.50px;width:8px;height:32.8px;background:#1f2e45;"></div><div class="cell" style="left:342.30px;top:105.50px;width:8px;height:32.8px;background:#1f2e45;"></div><div class="cell" style="left:351.90px;top:105.50px;width:8px;height:32.8px;background:#1f2e45;"></div><div class="cell" style="left:361.50px;top:105.50px;width:8px;height:32.8px;background:#1f2e45;"></div><div class="cell" style="left:371.10px;top:105.50px;width:8px;height:32.8px;background:#1f2e45;"></div><div class="cell" style="left:380.70px;top:105.50px;width:8px;height:32.8px;background:#1f2e45;"></div><div class="cell" style="left:390.30px;top:105.50px;width:8px;height:32.8px;background:#1f2e45;"></div><div class="cell" style="left:399.90px;top:105.50px;width:8px;height:32.8px;background:#1f2e45;"></div><div class="cell" style="left:409.50px;top:105.50px;width:8px;height:32.8px;background:#1f2e45;"></div><div class="cell" style="left:419.10px;top:105.50px;width:8px;height:32.8px;background:#1f2e45;"></div><div class="cell" style="left:428.70px;top:105.50px;width:8px;height:32.8px;background:#1f2e45;"></div><div class="cell" style="left:438.30px;top:105.50px;width:8px;height:32.8px;background:#1f2e45;"></div><div class="cell" style="left:447.90px;top:105.50px;width:8px;height:32.8px;background:#1f2e45;"></div><div class="cell" style="left:457.50px;top:105.50px;width:8px;height:32.8px;background:#1f2e45;"></div><div class="cell" style="left:467.10px;top:105.50px;width:8px;height:32.8px;background:#1f2e45;"></div><div class="cell" style="left:476.70px;top:105.50px;width:8px;height:32.8px;background:#1f2e45;"></div><div class="cell" style="left:486.30px;top:105.50px;width:8px;height:32.8px;background:#1f2e45;"></div><div class="cell" style="left:495.90px;top:105.50px;width:8px;height:32.8px;background:#1f2e45;"></div><div class="cell" style="left:505.50px;top:105.50px;width:8px;height:32.8px;background:#1f2e45;"></div><div class="cell" style="left:515.10px;top:105.50px;width:8px;height:32.8px;background:#1f2e45;"></div><div class="cell" style="left:524.70px;top:105.50px;width:8px;height:32.8px;background:#1f2e45;"></div><div class="cell" style="left:534.30px;top:105.50px;width:8px;height:32.8px;background:#1f2e45;"></div><div class="cell" style="left:543.90px;top:105.50px;width:8px;height:32.8px;background:#1f2e45;"></div><div class="cell" style="left:553.50px;top:105.50px;width:8px;height:32.8px;background:#1f2e45;"></div><div class="cell" style="left:563.10px;top:105.50px;width:8px;height:32.8px;background:#1f2e45;"></div><div class="cell" style="left:572.70px;top:105.50px;width:8px;height:32.8px;background:#1f2e45;"></div><div class="cell" style="left:582.30px;top:105.50px;width:8px;height:32.8px;background:#1f2e45;"></div><div class="cell" style="left:591.90px;top:105.50px;width:8px;height:32.8px;background:#1f2e45;"></div><div class="cell" style="left:601.50px;top:105.50px;width:8px;height:32.8px;background:#1f2e45;"></div><div class="cell" style="left:611.10px;top:105.50px;width:8px;height:32.8px;background:#1f2e45;"></div><div class="cell" style="left:620.70px;top:105.50px;width:8px;height:32.8px;background:#1f2e45;"></div><div class="cell" style="left:630.30px;top:105.50px;width:8px;height:32.8px;background:#1f2e45;"></div><div class="cell" style="left:639.90px;top:105.50px;width:8px;height:32.8px;background:#1f2e45;"></div><div class="cell" style="left:649.50px;top:105.50px;width:8px;height:32.8px;background:#1f2e45;"></div><div class="cell" style="left:659.10px;top:105.50px;width:8px;height:32.8px;background:#1f2e45;"></div><div class="cell" style="left:668.70px;top:105.50px;width:8px;height:32.8px;background:#1f2e45;"></div><div class="cell" style="left:678.30px;top:105.50px;width:8px;height:32.8px;background:#1f2e45;"></div><div class="cell" style="left:687.90px;top:105.50px;width:8px;height:32.8px;background:#1f2e45;"></div><div class="cell" style="left:697.50px;top:105.50px;width:8px;height:32.8px;background:#1f2e45;"></div><div class="cell" style="left:707.10px;top:105.50px;width:8px;height:32.8px;background:#1f2e45;"></div><div class="cell" style="left:716.70px;top:105.50px;width:8px;height:32.8px;background:#1f2e45;"></div><div class="cell" style="left:726.30px;top:105.50px;width:8px;height:32.8px;background:#1f2e45;"></div><div class="cell" style="left:735.90px;top:105.50px;width:8px;height:32.8px;background:#40232b;"></div><div class="cell" style="left:745.50px;top:105.50px;width:8px;height:32.8px;background:#40232b;"></div><div class="cell" style="left:755.10px;top:105.50px;width:8px;height:32.8px;background:#40232b;"></div><div class="cell" style="left:764.70px;top:105.50px;width:8px;height:32.8px;background:#40232b;"></div><div class="cell" style="left:774.30px;top:105.50px;width:8px;height:32.8px;background:#40232b;"></div><div class="cell" style="left:783.90px;top:105.50px;width:8px;height:32.8px;background:#40232b;"></div><div class="cell" style="left:793.50px;top:105.50px;width:8px;height:32.8px;background:#40232b;"></div><div class="cell" style="left:803.10px;top:105.50px;width:8px;height:32.8px;background:#40232b;"></div>
<span class="t" style="left:901.32px;top:115.49px;font-size:15.6px;line-height:15.6px;color:#3576dc;letter-spacing:0.649px;">B/s</span>
<span class="t" style="left:857.85px;top:112.45px;font-size:19.2px;line-height:19.2px;color:#3576dc;letter-spacing:0.538px;">0.00</span>
<span class="t" style="left:5.93px;top:144.57px;font-size:17.4px;line-height:17.4px;color:#d2d2e0;letter-spacing:1.107px;-webkit-text-stroke:0.2px #d2d2e0;">GigabitEthernet0/0/19 (to TC-15-HJ-01)</span>
<div class="cell" style="left:6.30px;top:167.10px;width:8px;height:32.8px;background:radial-gradient(ellipse at center,#3779dc 0%,#3069c2 55%,#2c5ca6 100%);"></div><div class="cell" style="left:15.90px;top:167.10px;width:8px;height:32.8px;background:radial-gradient(ellipse at center,#3779dc 0%,#3069c2 55%,#2c5ca6 100%);"></div><div class="cell" style="left:25.50px;top:167.10px;width:8px;height:32.8px;background:radial-gradient(ellipse at center,#3779dc 0%,#3069c2 55%,#2c5ca6 100%);"></div><div class="cell" style="left:35.10px;top:167.10px;width:8px;height:32.8px;background:radial-gradient(ellipse at center,#3779dc 0%,#3069c2 55%,#2c5ca6 100%);"></div><div class="cell" style="left:44.70px;top:167.10px;width:8px;height:32.8px;background:radial-gradient(ellipse at center,#3779dc 0%,#3069c2 55%,#2c5ca6 100%);"></div><div class="cell" style="left:54.30px;top:167.10px;width:8px;height:32.8px;background:radial-gradient(ellipse at center,#3779dc 0%,#3069c2 55%,#2c5ca6 100%);"></div><div class="cell" style="left:63.90px;top:167.10px;width:8px;height:32.8px;background:radial-gradient(ellipse at center,#3779dc 0%,#3069c2 55%,#2c5ca6 100%);"></div><div class="cell" style="left:73.50px;top:167.10px;width:8px;height:32.8px;background:#1f2e45;"></div><div class="cell" style="left:83.10px;top:167.10px;width:8px;height:32.8px;background:#1f2e45;"></div><div class="cell" style="left:92.70px;top:167.10px;width:8px;height:32.8px;background:#1f2e45;"></div><div class="cell" style="left:102.30px;top:167.10px;width:8px;height:32.8px;background:#1f2e45;"></div><div class="cell" style="left:111.90px;top:167.10px;width:8px;height:32.8px;background:#1f2e45;"></div><div class="cell" style="left:121.50px;top:167.10px;width:8px;height:32.8px;background:#1f2e45;"></div><div class="cell" style="left:131.10px;top:167.10px;width:8px;height:32.8px;background:#1f2e45;"></div><div class="cell" style="left:140.70px;top:167.10px;width:8px;height:32.8px;background:#1f2e45;"></div><div class="cell" style="left:150.30px;top:167.10px;width:8px;height:32.8px;background:#1f2e45;"></div><div class="cell" style="left:159.90px;top:167.10px;width:8px;height:32.8px;background:#1f2e45;"></div><div class="cell" style="left:169.50px;top:167.10px;width:8px;height:32.8px;background:#1f2e45;"></div><div class="cell" style="left:179.10px;top:167.10px;width:8px;height:32.8px;background:#1f2e45;"></div><div class="cell" style="left:188.70px;top:167.10px;width:8px;height:32.8px;background:#1f2e45;"></div><div class="cell" style="left:198.30px;top:167.10px;width:8px;height:32.8px;background:#1f2e45;"></div><div class="cell" style="left:207.90px;top:167.10px;width:8px;height:32.8px;background:#1f2e45;"></div><div class="cell" style="left:217.50px;top:167.10px;width:8px;height:32.8px;background:#1f2e45;"></div><div class="cell" style="left:227.10px;top:167.10px;width:8px;height:32.8px;background:#1f2e45;"></div><div class="cell" style="left:236.70px;top:167.10px;width:8px;height:32.8px;background:#1f2e45;"></div><div class="cell" style="left:246.30px;top:167.10px;width:8px;height:32.8px;background:#1f2e45;"></div><div class="cell" style="left:255.90px;top:167.10px;width:8px;height:32.8px;background:#1f2e45;"></div><div class="cell" style="left:265.50px;top:167.10px;width:8px;height:32.8px;background:#1f2e45;"></div><div class="cell" style="left:275.10px;top:167.10px;width:8px;height:32.8px;background:#1f2e45;"></div><div class="cell" style="left:284.70px;top:167.10px;width:8px;height:32.8px;background:#1f2e45;"></div><div class="cell" style="left:294.30px;top:167.10px;width:8px;height:32.8px;background:#1f2e45;"></div><div class="cell" style="left:303.90px;top:167.10px;width:8px;height:32.8px;background:#1f2e45;"></div><div class="cell" style="left:313.50px;top:167.10px;width:8px;height:32.8px;background:#1f2e45;"></div><div class="cell" style="left:323.10px;top:167.10px;width:8px;height:32.8px;background:#1f2e45;"></div><div class="cell" style="left:332.70px;top:167.10px;width:8px;height:32.8px;background:#1f2e45;"></div><div class="cell" style="left:342.30px;top:167.10px;width:8px;height:32.8px;background:#1f2e45;"></div><div class="cell" style="left:351.90px;top:167.10px;width:8px;height:32.8px;background:#1f2e45;"></div><div class="cell" style="left:361.50px;top:167.10px;width:8px;height:32.8px;background:#1f2e45;"></div><div class="cell" style="left:371.10px;top:167.10px;width:8px;height:32.8px;background:#1f2e45;"></div><div class="cell" style="left:380.70px;top:167.10px;width:8px;height:32.8px;background:#1f2e45;"></div><div class="cell" style="left:390.30px;top:167.10px;width:8px;height:32.8px;background:#1f2e45;"></div><div class="cell" style="left:399.90px;top:167.10px;width:8px;height:32.8px;background:#1f2e45;"></div><div class="cell" style="left:409.50px;top:167.10px;width:8px;height:32.8px;background:#1f2e45;"></div><div class="cell" style="left:419.10px;top:167.10px;width:8px;height:32.8px;background:#1f2e45;"></div><div class="cell" style="left:428.70px;top:167.10px;width:8px;height:32.8px;background:#1f2e45;"></div><div class="cell" style="left:438.30px;top:167.10px;width:8px;height:32.8px;background:#1f2e45;"></div><div class="cell" style="left:447.90px;top:167.10px;width:8px;height:32.8px;background:#1f2e45;"></div><div class="cell" style="left:457.50px;top:167.10px;width:8px;height:32.8px;background:#1f2e45;"></div><div class="cell" style="left:467.10px;top:167.10px;width:8px;height:32.8px;background:#1f2e45;"></div><div class="cell" style="left:476.70px;top:167.10px;width:8px;height:32.8px;background:#1f2e45;"></div><div class="cell" style="left:486.30px;top:167.10px;width:8px;height:32.8px;background:#1f2e45;"></div><div class="cell" style="left:495.90px;top:167.10px;width:8px;height:32.8px;background:#1f2e45;"></div><div class="cell" style="left:505.50px;top:167.10px;width:8px;height:32.8px;background:#1f2e45;"></div><div class="cell" style="left:515.10px;top:167.10px;width:8px;height:32.8px;background:#1f2e45;"></div><div class="cell" style="left:524.70px;top:167.10px;width:8px;height:32.8px;background:#1f2e45;"></div><div class="cell" style="left:534.30px;top:167.10px;width:8px;height:32.8px;background:#1f2e45;"></div><div class="cell" style="left:543.90px;top:167.10px;width:8px;height:32.8px;background:#1f2e45;"></div><div class="cell" style="left:553.50px;top:167.10px;width:8px;height:32.8px;background:#1f2e45;"></div><div class="cell" style="left:563.10px;top:167.10px;width:8px;height:32.8px;background:#1f2e45;"></div><div class="cell" style="left:572.70px;top:167.10px;width:8px;height:32.8px;background:#1f2e45;"></div><div class="cell" style="left:582.30px;top:167.10px;width:8px;height:32.8px;background:#1f2e45;"></div><div class="cell" style="left:591.90px;top:167.10px;width:8px;height:32.8px;background:#1f2e45;"></div><div class="cell" style="left:601.50px;top:167.10px;width:8px;height:32.8px;background:#1f2e45;"></div><div class="cell" style="left:611.10px;top:167.10px;width:8px;height:32.8px;background:#1f2e45;"></div><div class="cell" style="left:620.70px;top:167.10px;width:8px;height:32.8px;background:#1f2e45;"></div><div class="cell" style="left:630.30px;top:167.10px;width:8px;height:32.8px;background:#1f2e45;"></div><div class="cell" style="left:639.90px;top:167.10px;width:8px;height:32.8px;background:#1f2e45;"></div><div class="cell" style="left:649.50px;top:167.10px;width:8px;height:32.8px;background:#1f2e45;"></div><div class="cell" style="left:659.10px;top:167.10px;width:8px;height:32.8px;background:#1f2e45;"></div><div class="cell" style="left:668.70px;top:167.10px;width:8px;height:32.8px;background:#1f2e45;"></div><div class="cell" style="left:678.30px;top:167.10px;width:8px;height:32.8px;background:#1f2e45;"></div><div class="cell" style="left:687.90px;top:167.10px;width:8px;height:32.8px;background:#1f2e45;"></div><div class="cell" style="left:697.50px;top:167.10px;width:8px;height:32.8px;background:#1f2e45;"></div><div class="cell" style="left:707.10px;top:167.10px;width:8px;height:32.8px;background:#1f2e45;"></div><div class="cell" style="left:716.70px;top:167.10px;width:8px;height:32.8px;background:#1f2e45;"></div><div class="cell" style="left:726.30px;top:167.10px;width:8px;height:32.8px;background:#1f2e45;"></div><div class="cell" style="left:735.90px;top:167.10px;width:8px;height:32.8px;background:#40232b;"></div><div class="cell" style="left:745.50px;top:167.10px;width:8px;height:32.8px;background:#40232b;"></div><div class="cell" style="left:755.10px;top:167.10px;width:8px;height:32.8px;background:#40232b;"></div><div class="cell" style="left:764.70px;top:167.10px;width:8px;height:32.8px;background:#40232b;"></div><div class="cell" style="left:774.30px;top:167.10px;width:8px;height:32.8px;background:#40232b;"></div><div class="cell" style="left:783.90px;top:167.10px;width:8px;height:32.8px;background:#40232b;"></div><div class="cell" style="left:793.50px;top:167.10px;width:8px;height:32.8px;background:#40232b;"></div><div class="cell" style="left:803.10px;top:167.10px;width:8px;height:32.8px;background:#40232b;"></div>
<span class="t" style="left:893.25px;top:177.09px;font-size:15.6px;line-height:15.6px;color:#3576dc;letter-spacing:0.522px;">kB/s</span>
<span class="t" style="left:831.33px;top:174.05px;font-size:19.2px;line-height:19.2px;color:#3576dc;letter-spacing:-0.250px;transform:scaleX(0.9954);transform-origin:0 0;">746.10</span>
<span class="t" style="left:5.93px;top:206.17px;font-size:17.4px;line-height:17.4px;color:#d2d2e0;letter-spacing:1.242px;-webkit-text-stroke:0.2px #d2d2e0;">GigabitEthernet0/0/20 (to TC-15-HJ-02)</span>
<div class="cell" style="left:6.30px;top:228.70px;width:8px;height:32.8px;background:#1f2e45;"></div><div class="cell" style="left:15.90px;top:228.70px;width:8px;height:32.8px;background:#1f2e45;"></div><div class="cell" style="left:25.50px;top:228.70px;width:8px;height:32.8px;background:#1f2e45;"></div><div class="cell" style="left:35.10px;top:228.70px;width:8px;height:32.8px;background:#1f2e45;"></div><div class="cell" style="left:44.70px;top:228.70px;width:8px;height:32.8px;background:#1f2e45;"></div><div class="cell" style="left:54.30px;top:228.70px;width:8px;height:32.8px;background:#1f2e45;"></div><div class="cell" style="left:63.90px;top:228.70px;width:8px;height:32.8px;background:#1f2e45;"></div><div class="cell" style="left:73.50px;top:228.70px;width:8px;height:32.8px;background:#1f2e45;"></div><div class="cell" style="left:83.10px;top:228.70px;width:8px;height:32.8px;background:#1f2e45;"></div><div class="cell" style="left:92.70px;top:228.70px;width:8px;height:32.8px;background:#1f2e45;"></div><div class="cell" style="left:102.30px;top:228.70px;width:8px;height:32.8px;background:#1f2e45;"></div><div class="cell" style="left:111.90px;top:228.70px;width:8px;height:32.8px;background:#1f2e45;"></div><div class="cell" style="left:121.50px;top:228.70px;width:8px;height:32.8px;background:#1f2e45;"></div><div class="cell" style="left:131.10px;top:228.70px;width:8px;height:32.8px;background:#1f2e45;"></div><div class="cell" style="left:140.70px;top:228.70px;width:8px;height:32.8px;background:#1f2e45;"></div><div class="cell" style="left:150.30px;top:228.70px;width:8px;height:32.8px;background:#1f2e45;"></div><div class="cell" style="left:159.90px;top:228.70px;width:8px;height:32.8px;background:#1f2e45;"></div><div class="cell" style="left:169.50px;top:228.70px;width:8px;height:32.8px;background:#1f2e45;"></div><div class="cell" style="left:179.10px;top:228.70px;width:8px;height:32.8px;background:#1f2e45;"></div><div class="cell" style="left:188.70px;top:228.70px;width:8px;height:32.8px;background:#1f2e45;"></div><div class="cell" style="left:198.30px;top:228.70px;width:8px;height:32.8px;background:#1f2e45;"></div><div class="cell" style="left:207.90px;top:228.70px;width:8px;height:32.8px;background:#1f2e45;"></div><div class="cell" style="left:217.50px;top:228.70px;width:8px;height:32.8px;background:#1f2e45;"></div><div class="cell" style="left:227.10px;top:228.70px;width:8px;height:32.8px;background:#1f2e45;"></div><div class="cell" style="left:236.70px;top:228.70px;width:8px;height:32.8px;background:#1f2e45;"></div><div class="cell" style="left:246.30px;top:228.70px;width:8px;height:32.8px;background:#1f2e45;"></div><div class="cell" style="left:255.90px;top:228.70px;width:8px;height:32.8px;background:#1f2e45;"></div><div class="cell" style="left:265.50px;top:228.70px;width:8px;height:32.8px;background:#1f2e45;"></div><div class="cell" style="left:275.10px;top:228.70px;width:8px;height:32.8px;background:#1f2e45;"></div><div class="cell" style="left:284.70px;top:228.70px;width:8px;height:32.8px;background:#1f2e45;"></div><div class="cell" style="left:294.30px;top:228.70px;width:8px;height:32.8px;background:#1f2e45;"></div><div class="cell" style="left:303.90px;top:228.70px;width:8px;height:32.8px;background:#1f2e45;"></div><div class="cell" style="left:313.50px;top:228.70px;width:8px;height:32.8px;background:#1f2e45;"></div><div class="cell" style="left:323.10px;top:228.70px;width:8px;height:32.8px;background:#1f2e45;"></div><div class="cell" style="left:332.70px;top:228.70px;width:8px;height:32.8px;background:#1f2e45;"></div><div class="cell" style="left:342.30px;top:228.70px;width:8px;height:32.8px;background:#1f2e45;"></div><div class="cell" style="left:351.90px;top:228.70px;width:8px;height:32.8px;background:#1f2e45;"></div><div class="cell" style="left:361.50px;top:228.70px;width:8px;height:32.8px;background:#1f2e45;"></div><div class="cell" style="left:371.10px;top:228.70px;width:8px;height:32.8px;background:#1f2e45;"></div><div class="cell" style="left:380.70px;top:228.70px;width:8px;height:32.8px;background:#1f2e45;"></div><div class="cell" style="left:390.30px;top:228.70px;width:8px;height:32.8px;background:#1f2e45;"></div><div class="cell" style="left:399.90px;top:228.70px;width:8px;height:32.8px;background:#1f2e45;"></div><div class="cell" style="left:409.50px;top:228.70px;width:8px;height:32.8px;background:#1f2e45;"></div><div class="cell" style="left:419.10px;top:228.70px;width:8px;height:32.8px;background:#1f2e45;"></div><div class="cell" style="left:428.70px;top:228.70px;width:8px;height:32.8px;background:#1f2e45;"></div><div class="cell" style="left:438.30px;top:228.70px;width:8px;height:32.8px;background:#1f2e45;"></div><div class="cell" style="left:447.90px;top:228.70px;width:8px;height:32.8px;background:#1f2e45;"></div><div class="cell" style="left:457.50px;top:228.70px;width:8px;height:32.8px;background:#1f2e45;"></div><div class="cell" style="left:467.10px;top:228.70px;width:8px;height:32.8px;background:#1f2e45;"></div><div class="cell" style="left:476.70px;top:228.70px;width:8px;height:32.8px;background:#1f2e45;"></div><div class="cell" style="left:486.30px;top:228.70px;width:8px;height:32.8px;background:#1f2e45;"></div><div class="cell" style="left:495.90px;top:228.70px;width:8px;height:32.8px;background:#1f2e45;"></div><div class="cell" style="left:505.50px;top:228.70px;width:8px;height:32.8px;background:#1f2e45;"></div><div class="cell" style="left:515.10px;top:228.70px;width:8px;height:32.8px;background:#1f2e45;"></div><div class="cell" style="left:524.70px;top:228.70px;width:8px;height:32.8px;background:#1f2e45;"></div><div class="cell" style="left:534.30px;top:228.70px;width:8px;height:32.8px;background:#1f2e45;"></div><div class="cell" style="left:543.90px;top:228.70px;width:8px;height:32.8px;background:#1f2e45;"></div><div class="cell" style="left:553.50px;top:228.70px;width:8px;height:32.8px;background:#1f2e45;"></div><div class="cell" style="left:563.10px;top:228.70px;width:8px;height:32.8px;background:#1f2e45;"></div><div class="cell" style="left:572.70px;top:228.70px;width:8px;height:32.8px;background:#1f2e45;"></div><div class="cell" style="left:582.30px;top:228.70px;width:8px;height:32.8px;background:#1f2e45;"></div><div class="cell" style="left:591.90px;top:228.70px;width:8px;height:32.8px;background:#1f2e45;"></div><div class="cell" style="left:601.50px;top:228.70px;width:8px;height:32.8px;background:#1f2e45;"></div><div class="cell" style="left:611.10px;top:228.70px;width:8px;height:32.8px;background:#1f2e45;"></div><div class="cell" style="left:620.70px;top:228.70px;width:8px;height:32.8px;background:#1f2e45;"></div><div class="cell" style="left:630.30px;top:228.70px;width:8px;height:32.8px;background:#1f2e45;"></div><div class="cell" style="left:639.90px;top:228.70px;width:8px;height:32.8px;background:#1f2e45;"></div><div class="cell" style="left:649.50px;top:228.70px;width:8px;height:32.8px;background:#1f2e45;"></div><div class="cell" style="left:659.10px;top:228.70px;width:8px;height:32.8px;background:#1f2e45;"></div><div class="cell" style="left:668.70px;top:228.70px;width:8px;height:32.8px;background:#1f2e45;"></div><div class="cell" style="left:678.30px;top:228.70px;width:8px;height:32.8px;background:#1f2e45;"></div><div class="cell" style="left:687.90px;top:228.70px;width:8px;height:32.8px;background:#1f2e45;"></div><div class="cell" style="left:697.50px;top:228.70px;width:8px;height:32.8px;background:#1f2e45;"></div><div class="cell" style="left:707.10px;top:228.70px;width:8px;height:32.8px;background:#1f2e45;"></div><div class="cell" style="left:716.70px;top:228.70px;width:8px;height:32.8px;background:#1f2e45;"></div><div class="cell" style="left:726.30px;top:228.70px;width:8px;height:32.8px;background:#1f2e45;"></div><div class="cell" style="left:735.90px;top:228.70px;width:8px;height:32.8px;background:#40232b;"></div><div class="cell" style="left:745.50px;top:228.70px;width:8px;height:32.8px;background:#40232b;"></div><div class="cell" style="left:755.10px;top:228.70px;width:8px;height:32.8px;background:#40232b;"></div><div class="cell" style="left:764.70px;top:228.70px;width:8px;height:32.8px;background:#40232b;"></div><div class="cell" style="left:774.30px;top:228.70px;width:8px;height:32.8px;background:#40232b;"></div><div class="cell" style="left:783.90px;top:228.70px;width:8px;height:32.8px;background:#40232b;"></div><div class="cell" style="left:793.50px;top:228.70px;width:8px;height:32.8px;background:#40232b;"></div><div class="cell" style="left:803.10px;top:228.70px;width:8px;height:32.8px;background:#40232b;"></div>
<span class="t" style="left:924.60px;top:238.69px;font-size:15.6px;line-height:15.6px;color:#3576dc;"></span>
<span class="t" style="left:918.10px;top:235.65px;font-size:19.2px;line-height:19.2px;color:#3576dc;"></span>
</div>
<div style="left:970.00px;top:849.80px;width:916.20px;height:5.00px;background:#414350;border:0.8px solid #08090b;"></div>
<div style="left:1892.80px;top:848.80px;width:7.00px;height:7.20px;background:#ffffff;border:0.5px solid #0b0c0e;"></div>
<div style="left:1893.40px;top:677.40px;width:6.20px;height:40.00px;background:#42434d;border:1px solid #0b0c0e;border-radius:2px;"></div>
<div style="left:220.30px;top:633.00px;width:32.40px;height:15.00px;background:linear-gradient(to right,#4b4b55 0,#4b4b55 55%,#504f59 55%,#504f59 100%);border-radius:7.5px;"></div>
<div style="left:229.70px;top:697.20px;width:20.10px;height:12.60px;background:linear-gradient(to right,#3f4047 0,#3f4047 55%,#37393e 55%,#37393e 100%);border-radius:6.3px;"></div>
<div style="left:226.40px;top:756.00px;width:26.30px;height:16.40px;background:linear-gradient(to right,#3d3d46 0,#3d3d46 55%,#36363d 55%,#36363d 100%);border-radius:8.2px;"></div>
<div style="left:222.20px;top:817.00px;width:22.50px;height:17.70px;background:linear-gradient(to right,#3c3d46 0,#3c3d46 55%,#34353c 55%,#34353c 100%);border-radius:8.8px;"></div>
<div style="left:1193.00px;top:647.00px;width:30.00px;height:16.00px;background:linear-gradient(to right,#4a4a52 0,#4a4a52 55%,#3f4048 55%,#3f4048 100%);border-radius:8.0px;"></div>
<div style="left:1068.00px;top:710.60px;width:90.70px;height:16.90px;background:linear-gradient(to right,#2d3037 0,#2d3037 55%,#3b3d45 55%,#3b3d45 100%);border-radius:8.4px;"></div>
<div style="left:1200.80px;top:774.00px;width:26.70px;height:18.00px;background:linear-gradient(to right,#2f3036 0,#2f3036 55%,#2b2c31 55%,#2b2c31 100%);border-radius:9.0px;"></div>
<div style="left:1199.80px;top:832.50px;width:34.20px;height:16.90px;background:linear-gradient(to right,#2d2f35 0,#2d2f35 55%,#303138 55%,#303138 100%);border-radius:8.4px;"></div>
<div class="p" style="left:13.00px;top:868.80px;width:1894.00px;height:120.00px;"></div>
<span class="t" style="left:19.95px;top:877.22px;font-size:11.2px;line-height:11.2px;color:#ccccdc;letter-spacing:0.595px;-webkit-text-stroke:0.35px #ccccdc;">Out / In</span>
<span class="t" style="left:25.51px;top:905.00px;font-size:9.8px;line-height:9.8px;color:#ccccdc;letter-spacing:0.209px;">2 MB</span>
<span class="t" style="left:25.76px;top:950.40px;font-size:9.8px;line-height:9.8px;color:#ccccdc;letter-spacing:0.127px;">1 MB</span>
<svg class="a" style="left:0;top:0" width="1920" height="963" viewBox="0 0 1920 963"><path d="M53 909.8 H1376.5" stroke="#34373c" stroke-width="1"/><path d="M53 955.6 H1376.5" stroke="#34373c" stroke-width="1"/><path d="M68.5 909.8 V963" stroke="#34373c" stroke-width="1"/><path d="M112.6 909.8 V963" stroke="#34373c" stroke-width="1"/><path d="M156.7 909.8 V963" stroke="#34373c" stroke-width="1"/><path d="M200.8 909.8 V963" stroke="#34373c" stroke-width="1"/><path d="M244.9 909.8 V963" stroke="#34373c" stroke-width="1"/><path d="M289.0 909.8 V963" stroke="#34373c" stroke-width="1"/><path d="M333.1 909.8 V963" stroke="#34373c" stroke-width="1"/><path d="M377.2 909.8 V963" stroke="#34373c" stroke-width="1"/><path d="M421.3 909.8 V963" stroke="#34373c" stroke-width="1"/><path d="M465.4 909.8 V963" stroke="#34373c" stroke-width="1"/><path d="M509.5 909.8 V963" stroke="#34373c" stroke-width="1"/><path d="M553.6 909.8 V963" stroke="#34373c" stroke-width="1"/><path d="M597.7 909.8 V963" stroke="#34373c" stroke-width="1"/><path d="M641.8 909.8 V963" stroke="#34373c" stroke-width="1"/><path d="M685.9 909.8 V963" stroke="#34373c" stroke-width="1"/><path d="M730.0 909.8 V963" stroke="#34373c" stroke-width="1"/><path d="M774.1 909.8 V963" stroke="#34373c" stroke-width="1"/><path d="M818.2 909.8 V963" stroke="#34373c" stroke-width="1"/><path d="M862.3 909.8 V963" stroke="#34373c" stroke-width="1"/><path d="M906.4 909.8 V963" stroke="#34373c" stroke-width="1"/><path d="M950.5 909.8 V963" stroke="#34373c" stroke-width="1"/><path d="M994.6 909.8 V963" stroke="#34373c" stroke-width="1"/><path d="M1038.7 909.8 V963" stroke="#34373c" stroke-width="1"/><path d="M1082.8 909.8 V963" stroke="#34373c" stroke-width="1"/><path d="M1126.9 909.8 V963" stroke="#34373c" stroke-width="1"/><path d="M1171.0 909.8 V963" stroke="#34373c" stroke-width="1"/><path d="M1215.1 909.8 V963" stroke="#34373c" stroke-width="1"/><path d="M1259.2 909.8 V963" stroke="#34373c" stroke-width="1"/><path d="M1303.3 909.8 V963" stroke="#34373c" stroke-width="1"/><path d="M1347.4 909.8 V963" stroke="#34373c" stroke-width="1"/><path d="M53 956.5 H245 L259 963 H53 Z" fill="#5a9fb5" fill-opacity="0.18"/><path d="M53 959.6 H245 L255 963 H53 Z" fill="#3f4148"/><path d="M53 958 H245 L258 963" fill="none" stroke="#4a8da3" stroke-width="1.2"/><path d="M53 959.7 H245 L255 963" fill="none" stroke="#d98c8c" stroke-width="1"/><path d="M53 948.6 L88 963 H53Z" fill="#5a9fb5" fill-opacity="0.2"/><path d="M53 948.6 L88 963" fill="none" stroke="#5f9db5" stroke-width="1"/><path d="M816 963 L840.4 951.1 H1039 L1061 963 Z" fill="#5a9fb5" fill-opacity="0.2"/><path d="M816 963 L840.4 951.1 H1039 L1061 963" fill="none" stroke="#5a9fb5" stroke-width="1"/><path d="M1062 963 L1105.4 916.9 H1370 V963 Z" fill="#c4321f" fill-opacity="0.2"/><path d="M1062 963 L1105.4 916.9 H1370" fill="none" stroke="#a3281b" stroke-width="1.1"/></svg>
<span class="t" style="left:1706.20px;top:908.70px;font-size:9.8px;line-height:9.8px;color:#33a2e5;letter-spacing:0.893px;-webkit-text-stroke:0.3px #33a2e5;">min</span>
<span class="t" style="left:1756.30px;top:908.70px;font-size:9.8px;line-height:9.8px;color:#33a2e5;letter-spacing:1.066px;-webkit-text-stroke:0.3px #33a2e5;">max</span>
<span class="t" style="left:1813.54px;top:908.70px;font-size:9.8px;line-height:9.8px;color:#33a2e5;letter-spacing:0.871px;-webkit-text-stroke:0.3px #33a2e5;">avg</span>
<span class="t" style="left:1852.74px;top:908.70px;font-size:9.8px;line-height:9.8px;color:#33a2e5;letter-spacing:0.695px;-webkit-text-stroke:0.3px #33a2e5;">current</span>
<div style="left:1399.00px;top:944.50px;width:495.00px;height:19.00px;background:#22252b;"></div>
<div style="left:1401.00px;top:932.00px;width:11.50px;height:2.60px;background:#eab839;border-radius:1.3px;"></div>
<div style="left:1401.00px;top:953.20px;width:11.50px;height:2.60px;background:#6ed0e0;border-radius:1.3px;"></div>
<span class="t" style="left:1419.54px;top:929.00px;font-size:9.8px;line-height:9.8px;color:#ccccdc;letter-spacing:0.340px;">Out: GigabitEthernet0/0/14 (LBX-22)</span>
<span class="t" style="left:1419.54px;top:950.00px;font-size:9.8px;line-height:9.8px;color:#ccccdc;letter-spacing:0.379px;">Out: GigabitEthernet0/0/22 (TC-server01)</span>
<span class="t" style="left:1702.21px;top:929.00px;font-size:9.8px;line-height:9.8px;color:#ccccdc;letter-spacing:0.599px;">585 B</span>
<span class="t" style="left:1697.46px;top:950.00px;font-size:9.8px;line-height:9.8px;color:#ccccdc;letter-spacing:-0.080px;">1.18 kB</span>
<span class="t" style="left:1755.45px;top:929.00px;font-size:9.8px;line-height:9.8px;color:#ccccdc;letter-spacing:0.688px;">992 B</span>
<span class="t" style="left:1748.46px;top:950.00px;font-size:9.8px;line-height:9.8px;color:#ccccdc;letter-spacing:0.354px;">1.46 kB</span>
<span class="t" style="left:1809.45px;top:929.00px;font-size:9.8px;line-height:9.8px;color:#ccccdc;letter-spacing:0.688px;">929 B</span>
<span class="t" style="left:1803.36px;top:950.00px;font-size:9.8px;line-height:9.8px;color:#ccccdc;letter-spacing:0.204px;">1.27 kB</span>
<span class="t" style="left:1867.35px;top:929.00px;font-size:9.8px;line-height:9.8px;color:#ccccdc;letter-spacing:0.263px;">915 B</span>
<span class="t" style="left:1861.26px;top:950.00px;font-size:9.8px;line-height:9.8px;color:#ccccdc;letter-spacing:-0.080px;">1.18 kB</span>
<div style="left:1893.50px;top:908.00px;width:5.20px;height:48.50px;background:#34363d;border-radius:2.6px;"></div>
</body></html>
